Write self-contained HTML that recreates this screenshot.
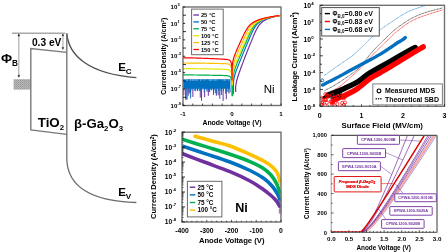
<!DOCTYPE html>
<html><head><meta charset="utf-8"><style>
html,body{margin:0;padding:0;background:#fff;overflow:hidden;}
svg{display:block;font-family:"Liberation Sans", Arial, sans-serif;}
</style></head><body>
<svg width="448" height="252" viewBox="0 0 448 252">
<rect width="448" height="252" fill="#fff"/>
<line x1="12.00" y1="33.20" x2="65.20" y2="33.20" stroke="#a8a8a8" stroke-width="1.5" />
<line x1="18.80" y1="34.00" x2="18.80" y2="77.00" stroke="#b4b4b4" stroke-width="1.3" />
<path d="M17.9,36.1 L18.8,34.0 L19.7,36.1 Z" stroke="#222" stroke-width="0.4" fill="#222" />
<path d="M17.9,75.3 L18.8,77.3 L19.7,75.3 Z" stroke="#222" stroke-width="0.4" fill="#222" />
<line x1="62.90" y1="34.00" x2="62.90" y2="49.30" stroke="#b4b4b4" stroke-width="1.2" />
<path d="M62.1,35.9 L62.9,34.0 L63.7,35.9 Z" stroke="#222" stroke-width="0.4" fill="#222" />
<path d="M62.1,47.4 L62.9,49.3 L63.7,47.4 Z" stroke="#222" stroke-width="0.4" fill="#222" />
<defs><pattern id="dots" width="2" height="2" patternUnits="userSpaceOnUse"><rect width="2" height="2" fill="#b8b8b8"/><rect width="1" height="1" fill="#989898"/><rect x="1" y="1" width="1" height="1" fill="#a4a4a4"/></pattern></defs>
<rect x="13.6" y="79.2" width="17.1" height="10.4" fill="url(#dots)"/>
<path d="M66.8,52.4 L30.8,48.6 L30.8,130 L66.8,134.4" stroke="#7a7a7a" stroke-width="1.4" fill="none" />
<path d="M66.8,33.4 C68.5,55 88,74 136.4,77.6" stroke="#505050" stroke-width="1.3" fill="none" />
<path d="M66.8,33.4 L66.8,160 C68,184 86,201 136.4,202.5" stroke="#6e6e6e" stroke-width="1.3" fill="none" />
<text x="1.00" y="63.00" font-size="13.5" text-anchor="start" font-weight="bold" fill="#000" >Φ</text>
<text x="12.00" y="66.00" font-size="8.2" text-anchor="start" font-weight="bold" fill="#000" >B</text>
<text x="31.90" y="45.80" font-size="10.2" text-anchor="start" font-weight="bold" fill="#000" >0.3 eV</text>
<text x="37.80" y="127.00" font-size="13.3" text-anchor="start" font-weight="bold" fill="#000" >TiO<tspan font-size="7.8" dy="3">2</tspan></text>
<text x="74.00" y="128.10" font-size="13.2" text-anchor="start" font-weight="bold" fill="#000" >β-Ga<tspan font-size="7.8" dy="2.6">2</tspan><tspan dy="-2.6">O</tspan><tspan font-size="7.8" dy="2.6">3</tspan></text>
<text x="118.30" y="71.00" font-size="11.5" text-anchor="start" font-weight="bold" fill="#000" >E</text>
<text x="125.80" y="74.00" font-size="8" text-anchor="start" font-weight="bold" fill="#000" >C</text>
<text x="118.30" y="195.80" font-size="11.5" text-anchor="start" font-weight="bold" fill="#000" >E</text>
<text x="125.80" y="198.80" font-size="8" text-anchor="start" font-weight="bold" fill="#000" >V</text>
<defs><clipPath id="cB"><rect x="183" y="7" width="98" height="98.5"/></clipPath></defs>
<g clip-path="url(#cB)">
<line x1="183.80" y1="88.00" x2="183.80" y2="94.98" stroke="#7030a0" stroke-width="1.0" />
<line x1="186.12" y1="88.00" x2="186.12" y2="100.17" stroke="#7030a0" stroke-width="1.0" />
<line x1="188.25" y1="88.00" x2="188.25" y2="95.59" stroke="#7030a0" stroke-width="1.0" />
<line x1="190.63" y1="88.00" x2="190.63" y2="92.03" stroke="#7030a0" stroke-width="1.0" />
<line x1="192.85" y1="88.00" x2="192.85" y2="96.93" stroke="#7030a0" stroke-width="1.0" />
<line x1="195.64" y1="88.00" x2="195.64" y2="91.04" stroke="#7030a0" stroke-width="1.0" />
<line x1="197.44" y1="88.00" x2="197.44" y2="91.00" stroke="#7030a0" stroke-width="1.0" />
<line x1="200.26" y1="88.00" x2="200.26" y2="97.63" stroke="#7030a0" stroke-width="1.0" />
<line x1="201.55" y1="88.00" x2="201.55" y2="100.80" stroke="#7030a0" stroke-width="1.0" />
<line x1="204.67" y1="88.00" x2="204.67" y2="97.19" stroke="#7030a0" stroke-width="1.0" />
<line x1="207.11" y1="88.00" x2="207.11" y2="91.73" stroke="#7030a0" stroke-width="1.0" />
<line x1="208.34" y1="88.00" x2="208.34" y2="95.81" stroke="#7030a0" stroke-width="1.0" />
<line x1="209.65" y1="88.00" x2="209.65" y2="92.09" stroke="#7030a0" stroke-width="1.0" />
<line x1="211.34" y1="88.00" x2="211.34" y2="90.33" stroke="#7030a0" stroke-width="1.0" />
<line x1="213.47" y1="88.00" x2="213.47" y2="94.85" stroke="#7030a0" stroke-width="1.0" />
<line x1="216.35" y1="88.00" x2="216.35" y2="95.71" stroke="#7030a0" stroke-width="1.0" />
<line x1="218.83" y1="88.00" x2="218.83" y2="95.50" stroke="#7030a0" stroke-width="1.0" />
<line x1="221.36" y1="88.00" x2="221.36" y2="95.03" stroke="#7030a0" stroke-width="1.0" />
<line x1="223.11" y1="88.00" x2="223.11" y2="100.97" stroke="#7030a0" stroke-width="1.0" />
<line x1="226.30" y1="88.00" x2="226.30" y2="99.24" stroke="#7030a0" stroke-width="1.0" />
<line x1="228.92" y1="88.00" x2="228.92" y2="93.47" stroke="#7030a0" stroke-width="1.0" />
<rect x="183.2" y="79.2" width="47.20" height="9.6" fill="#0070c0"/>
<line x1="183.60" y1="88.50" x2="183.60" y2="89.18" stroke="#0070c0" stroke-width="1.0" />
<line x1="185.65" y1="88.50" x2="185.65" y2="99.26" stroke="#0070c0" stroke-width="1.0" />
<line x1="187.13" y1="88.50" x2="187.13" y2="99.27" stroke="#0070c0" stroke-width="1.0" />
<line x1="188.03" y1="88.50" x2="188.03" y2="91.28" stroke="#0070c0" stroke-width="1.0" />
<line x1="189.64" y1="88.50" x2="189.64" y2="93.47" stroke="#0070c0" stroke-width="1.0" />
<line x1="190.64" y1="88.50" x2="190.64" y2="98.31" stroke="#0070c0" stroke-width="1.0" />
<line x1="191.95" y1="88.50" x2="191.95" y2="89.83" stroke="#0070c0" stroke-width="1.0" />
<line x1="194.30" y1="88.50" x2="194.30" y2="90.71" stroke="#0070c0" stroke-width="1.0" />
<line x1="195.56" y1="88.50" x2="195.56" y2="89.15" stroke="#0070c0" stroke-width="1.0" />
<line x1="197.66" y1="88.50" x2="197.66" y2="90.40" stroke="#0070c0" stroke-width="1.0" />
<line x1="199.23" y1="88.50" x2="199.23" y2="90.83" stroke="#0070c0" stroke-width="1.0" />
<line x1="200.33" y1="88.50" x2="200.33" y2="90.70" stroke="#0070c0" stroke-width="1.0" />
<line x1="201.86" y1="88.50" x2="201.86" y2="89.67" stroke="#0070c0" stroke-width="1.0" />
<line x1="204.22" y1="88.50" x2="204.22" y2="92.45" stroke="#0070c0" stroke-width="1.0" />
<line x1="206.44" y1="88.50" x2="206.44" y2="89.99" stroke="#0070c0" stroke-width="1.0" />
<line x1="208.62" y1="88.50" x2="208.62" y2="90.58" stroke="#0070c0" stroke-width="1.0" />
<line x1="211.01" y1="88.50" x2="211.01" y2="89.65" stroke="#0070c0" stroke-width="1.0" />
<line x1="213.07" y1="88.50" x2="213.07" y2="89.74" stroke="#0070c0" stroke-width="1.0" />
<line x1="214.08" y1="88.50" x2="214.08" y2="90.46" stroke="#0070c0" stroke-width="1.0" />
<line x1="215.34" y1="88.50" x2="215.34" y2="93.18" stroke="#0070c0" stroke-width="1.0" />
<line x1="216.92" y1="88.50" x2="216.92" y2="94.47" stroke="#0070c0" stroke-width="1.0" />
<line x1="218.68" y1="88.50" x2="218.68" y2="91.26" stroke="#0070c0" stroke-width="1.0" />
<line x1="219.81" y1="88.50" x2="219.81" y2="98.85" stroke="#0070c0" stroke-width="1.0" />
<line x1="221.09" y1="88.50" x2="221.09" y2="90.85" stroke="#0070c0" stroke-width="1.0" />
<line x1="223.40" y1="88.50" x2="223.40" y2="91.38" stroke="#0070c0" stroke-width="1.0" />
<line x1="225.62" y1="88.50" x2="225.62" y2="93.74" stroke="#0070c0" stroke-width="1.0" />
<line x1="226.68" y1="88.50" x2="226.68" y2="91.41" stroke="#0070c0" stroke-width="1.0" />
<line x1="227.94" y1="88.50" x2="227.94" y2="91.97" stroke="#0070c0" stroke-width="1.0" />
<line x1="230.07" y1="88.50" x2="230.07" y2="92.34" stroke="#0070c0" stroke-width="1.0" />
<line x1="216.42" y1="80.10" x2="217.32" y2="80.10" stroke="#e8f0fa" stroke-width="0.6" />
<line x1="187.09" y1="80.10" x2="187.99" y2="80.10" stroke="#e8f0fa" stroke-width="0.6" />
<line x1="194.28" y1="80.10" x2="195.18" y2="80.10" stroke="#e8f0fa" stroke-width="0.6" />
<line x1="209.17" y1="80.10" x2="210.07" y2="80.10" stroke="#e8f0fa" stroke-width="0.6" />
<line x1="222.36" y1="80.10" x2="223.26" y2="80.10" stroke="#e8f0fa" stroke-width="0.6" />
<line x1="211.64" y1="80.10" x2="212.54" y2="80.10" stroke="#e8f0fa" stroke-width="0.6" />
<line x1="196.61" y1="80.10" x2="197.51" y2="80.10" stroke="#e8f0fa" stroke-width="0.6" />
<line x1="225.28" y1="80.10" x2="226.18" y2="80.10" stroke="#e8f0fa" stroke-width="0.6" />
<line x1="193.18" y1="80.10" x2="194.08" y2="80.10" stroke="#e8f0fa" stroke-width="0.6" />
<line x1="184.75" y1="80.10" x2="185.65" y2="80.10" stroke="#e8f0fa" stroke-width="0.6" />
<line x1="196.11" y1="80.10" x2="197.01" y2="80.10" stroke="#e8f0fa" stroke-width="0.6" />
<line x1="204.06" y1="80.10" x2="204.96" y2="80.10" stroke="#e8f0fa" stroke-width="0.6" />
<line x1="186.72" y1="80.10" x2="187.62" y2="80.10" stroke="#e8f0fa" stroke-width="0.6" />
<line x1="191.93" y1="80.10" x2="192.83" y2="80.10" stroke="#e8f0fa" stroke-width="0.6" />
<line x1="200.60" y1="80.10" x2="201.50" y2="80.10" stroke="#e8f0fa" stroke-width="0.6" />
<line x1="209.75" y1="80.10" x2="210.65" y2="80.10" stroke="#e8f0fa" stroke-width="0.6" />
<line x1="189.92" y1="80.10" x2="190.82" y2="80.10" stroke="#e8f0fa" stroke-width="0.6" />
<line x1="200.30" y1="80.10" x2="201.20" y2="80.10" stroke="#e8f0fa" stroke-width="0.6" />
<line x1="224.09" y1="80.10" x2="224.99" y2="80.10" stroke="#e8f0fa" stroke-width="0.6" />
<line x1="228.12" y1="80.10" x2="229.02" y2="80.10" stroke="#e8f0fa" stroke-width="0.6" />
<line x1="213.56" y1="80.10" x2="214.46" y2="80.10" stroke="#e8f0fa" stroke-width="0.6" />
<line x1="215.10" y1="80.10" x2="216.00" y2="80.10" stroke="#e8f0fa" stroke-width="0.6" />
<line x1="210.30" y1="80.10" x2="211.20" y2="80.10" stroke="#e8f0fa" stroke-width="0.6" />
<line x1="190.32" y1="80.10" x2="191.22" y2="80.10" stroke="#e8f0fa" stroke-width="0.6" />
<line x1="185.58" y1="80.10" x2="186.48" y2="80.10" stroke="#e8f0fa" stroke-width="0.6" />
<line x1="184.81" y1="80.10" x2="185.71" y2="80.10" stroke="#e8f0fa" stroke-width="0.6" />
<path d="M235.79,91.96 L235.75,91.63 L235.72,91.30 L235.69,90.97 L235.66,90.64 L235.64,90.31 L235.63,89.99 L235.61,89.66 L235.60,89.33 L235.60,89.00 L235.59,88.67 L235.60,88.34 L235.60,88.02 L235.61,87.69 L235.63,87.36 L235.65,87.03 L235.67,86.70 L235.70,86.37 L235.73,86.05 L235.77,85.72 L235.80,85.39 L235.85,85.06 L235.89,84.73 L235.94,84.40 L236.00,84.08 L236.06,83.75 L236.12,83.42 L236.18,83.09 L236.25,82.76 L236.32,82.43 L236.39,82.11 L236.46,81.78 L236.54,81.45 L236.62,81.12 L236.70,80.79 L236.79,80.46 L236.87,80.14 L236.96,79.81 L237.05,79.48 L237.14,79.15 L237.24,78.82 L237.33,78.49 L237.43,78.17 L237.53,77.84 L237.63,77.51 L237.73,77.18 L237.83,76.85 L237.93,76.52 L238.03,76.20 L238.14,75.87 L238.24,75.54 L238.35,75.21 L238.46,74.88 L238.57,74.55 L238.68,74.23 L238.79,73.90 L238.90,73.57 L239.01,73.24 L239.12,72.91 L239.23,72.58 L239.35,72.26 L239.46,71.93 L239.58,71.60 L239.69,71.27 L239.81,70.94 L239.92,70.61 L240.04,70.29 L240.16,69.96 L240.27,69.63 L240.39,69.30 L240.51,68.97 L240.63,68.64 L240.75,68.32 L240.87,67.99 L240.99,67.66 L241.11,67.33 L241.23,67.00 L241.35,66.67 L241.47,66.35 L241.59,66.02 L241.71,65.69 L241.83,65.36 L241.96,65.03 L242.08,64.70 L242.20,64.38 L242.33,64.05 L242.45,63.72 L242.57,63.39 L242.70,63.06 L242.82,62.73 L242.95,62.41 L243.07,62.08 L243.20,61.75 L243.32,61.42 L243.45,61.09 L243.57,60.76 L243.70,60.44 L243.82,60.11 L243.95,59.78 L244.08,59.45 L244.20,59.12 L244.33,58.79 L244.46,58.47 L244.58,58.14 L244.71,57.81 L244.84,57.48 L244.97,57.15 L245.10,56.82 L245.22,56.50 L245.35,56.17 L245.48,55.84 L245.61,55.51 L245.74,55.18 L245.87,54.85 L246.00,54.53 L246.12,54.20 L246.25,53.87 L246.38,53.54 L246.51,53.21 L246.64,52.88 L246.77,52.56 L246.90,52.23 L247.03,51.90 L247.16,51.57 L247.29,51.24 L247.42,50.91 L247.55,50.59 L247.69,50.26 L247.82,49.93 L247.95,49.60 L248.08,49.27 L248.21,48.94 L248.34,48.62 L248.47,48.29 L248.60,47.96 L248.74,47.63 L248.87,47.30 L249.00,46.97 L249.13,46.65 L249.26,46.32 L249.40,45.99 L249.53,45.66 L249.66,45.33 L249.79,45.00 L249.93,44.68 L250.06,44.35 L250.19,44.02 L250.32,43.69 L250.46,43.36 L250.59,43.03 L250.72,42.71 L250.86,42.38 L250.99,42.05 L251.13,41.72 L251.26,41.39 L251.39,41.06 L251.53,40.74 L251.66,40.41 L251.80,40.08 L251.93,39.75 L252.07,39.42 L252.20,39.09 L252.34,38.77 L252.48,38.44 L252.61,38.11 L252.75,37.78 L252.89,37.45 L253.02,37.12 L253.16,36.80 L253.30,36.47 L253.44,36.14 L253.58,35.81 L253.72,35.48 L253.86,35.15 L254.00,34.83 L254.14,34.50 L254.29,34.17 L254.43,33.84 L254.57,33.51 L254.72,33.18 L254.87,32.86 L255.02,32.53 L255.17,32.20 L255.32,31.87 L255.47,31.54 L255.62,31.21 L255.78,30.89 L255.94,30.56 L256.10,30.23 L256.27,29.90 L256.43,29.57 L256.60,29.24 L256.78,28.92 L256.95,28.59 L257.13,28.26 L257.32,27.93 L257.51,27.60 L257.71,27.27 L257.91,26.95 L258.12,26.62 L258.33,26.29 L258.56,25.96 L258.79,25.63 L259.03,25.30 L259.28,24.98 L259.54,24.65 L259.82,24.32 L260.11,23.99 L260.41,23.66 L260.73,23.33 L261.07,23.01 L261.43,22.68 L261.81,22.35 L262.21,22.02 L262.64,21.69 L263.10,21.36 L263.59,21.04 L264.11,20.71 L264.67,20.38 L265.27,20.05 L265.92,19.72 L266.61,19.39 L267.36,19.07 L268.17,18.74 L269.04,18.41 L269.98,18.08 L271.01,17.75 L272.11,17.42 L273.32,17.10 L274.62,16.77 L276.04,16.44 L277.58,16.11 L279.26,15.78 L281.08,15.45" stroke="#7030a0" stroke-width="1.2" fill="none" stroke-linejoin="round"/>
<path d="M233.34,94.01 L233.34,93.68 L233.35,93.35 L233.35,93.02 L233.35,92.69 L233.36,92.37 L233.36,92.04 L233.36,91.71 L233.37,91.38 L233.37,91.05 L233.38,90.72 L233.38,90.40 L233.39,90.07 L233.40,89.74 L233.40,89.41 L233.41,89.08 L233.42,88.75 L233.43,88.43 L233.44,88.10 L233.45,87.77 L233.46,87.44 L233.45,87.11 L233.44,86.78 L233.43,86.46 L233.42,86.13 L233.42,85.80 L233.41,85.47 L233.41,85.14 L233.41,84.81 L233.41,84.49 L233.42,84.16 L233.43,83.83 L233.44,83.50 L233.45,83.17 L233.46,82.84 L233.48,82.52 L233.50,82.19 L233.53,81.86 L233.56,81.53 L233.59,81.20 L233.62,80.87 L233.66,80.55 L233.70,80.22 L233.75,79.89 L233.79,79.56 L233.85,79.23 L233.90,78.90 L233.96,78.58 L234.02,78.25 L234.09,77.92 L234.16,77.59 L234.23,77.26 L234.31,76.93 L234.38,76.61 L234.47,76.28 L234.55,75.95 L234.64,75.62 L234.73,75.29 L234.82,74.96 L234.92,74.64 L235.02,74.31 L235.12,73.98 L235.22,73.65 L235.32,73.32 L235.43,72.99 L235.54,72.67 L235.65,72.34 L235.76,72.01 L235.87,71.68 L235.99,71.35 L236.10,71.02 L236.22,70.70 L236.34,70.37 L236.46,70.04 L236.58,69.71 L236.70,69.38 L236.82,69.05 L236.95,68.73 L237.07,68.40 L237.20,68.07 L237.32,67.74 L237.45,67.41 L237.57,67.08 L237.70,66.76 L237.83,66.43 L237.96,66.10 L238.09,65.77 L238.21,65.44 L238.34,65.11 L238.47,64.79 L238.60,64.46 L238.73,64.13 L238.87,63.80 L239.00,63.47 L239.13,63.14 L239.26,62.82 L239.39,62.49 L239.52,62.16 L239.66,61.83 L239.79,61.50 L239.92,61.17 L240.05,60.85 L240.19,60.52 L240.32,60.19 L240.45,59.86 L240.59,59.53 L240.72,59.20 L240.86,58.88 L240.99,58.55 L241.12,58.22 L241.26,57.89 L241.39,57.56 L241.53,57.23 L241.66,56.91 L241.80,56.58 L241.93,56.25 L242.07,55.92 L242.20,55.59 L242.34,55.26 L242.47,54.94 L242.61,54.61 L242.74,54.28 L242.88,53.95 L243.01,53.62 L243.15,53.29 L243.28,52.97 L243.42,52.64 L243.56,52.31 L243.69,51.98 L243.83,51.65 L243.96,51.32 L244.10,51.00 L244.24,50.67 L244.37,50.34 L244.51,50.01 L244.64,49.68 L244.78,49.35 L244.92,49.03 L245.05,48.70 L245.19,48.37 L245.33,48.04 L245.46,47.71 L245.60,47.38 L245.74,47.06 L245.88,46.73 L246.01,46.40 L246.15,46.07 L246.29,45.74 L246.42,45.41 L246.56,45.09 L246.70,44.76 L246.84,44.43 L246.97,44.10 L247.11,43.77 L247.25,43.44 L247.39,43.12 L247.53,42.79 L247.66,42.46 L247.80,42.13 L247.94,41.80 L248.08,41.47 L248.22,41.15 L248.36,40.82 L248.50,40.49 L248.64,40.16 L248.78,39.83 L248.92,39.50 L249.06,39.18 L249.20,38.85 L249.34,38.52 L249.48,38.19 L249.62,37.86 L249.76,37.53 L249.90,37.21 L250.04,36.88 L250.19,36.55 L250.33,36.22 L250.47,35.89 L250.62,35.56 L250.76,35.24 L250.91,34.91 L251.06,34.58 L251.20,34.25 L251.35,33.92 L251.50,33.59 L251.65,33.27 L251.80,32.94 L251.96,32.61 L252.11,32.28 L252.27,31.95 L252.43,31.62 L252.59,31.30 L252.75,30.97 L252.91,30.64 L253.08,30.31 L253.25,29.98 L253.42,29.65 L253.60,29.33 L253.78,29.00 L253.96,28.67 L254.15,28.34 L254.34,28.01 L254.54,27.68 L254.74,27.36 L254.95,27.03 L255.17,26.70 L255.40,26.37 L255.63,26.04 L255.87,25.71 L256.12,25.39 L256.39,25.06 L256.66,24.73 L256.95,24.40 L257.26,24.07 L257.58,23.74 L257.91,23.42 L258.27,23.09 L258.64,22.76 L259.04,22.43 L259.47,22.10 L259.92,21.77 L260.41,21.45 L260.92,21.12 L261.48,20.79 L262.07,20.46 L262.70,20.13 L263.39,19.80 L264.13,19.48 L264.92,19.15 L265.78,18.82 L266.71,18.49 L267.71,18.16 L268.80,17.83 L269.98,17.51 L271.26,17.18 L272.65,16.85 L274.16,16.52 L275.80,16.19 L277.59,15.86 L279.54,15.54 L281.66,15.21" stroke="#0070c0" stroke-width="1.2" fill="none" stroke-linejoin="round"/>
<path d="M183.00,74.90 L184.00,74.90 L185.00,74.91 L186.00,74.91 L187.00,74.92 L188.00,74.93 L189.00,74.93 L190.00,74.94 L191.00,74.95 L192.00,74.96 L193.00,74.97 L194.00,74.98 L195.00,75.00 L196.00,75.01 L197.00,75.02 L198.00,75.03 L199.00,75.05 L200.00,75.06 L201.00,75.08 L202.00,75.09 L203.00,75.11 L204.00,75.12 L205.00,75.14 L206.00,75.16 L207.00,75.17 L208.00,75.19 L209.00,75.21 L210.00,75.23 L211.00,75.24 L212.00,75.26 L213.00,75.28 L214.00,75.30 L215.00,75.32 L216.00,75.34 L217.00,75.36 L218.00,75.38 L219.00,75.40 L220.00,75.42 L221.00,75.45 L222.00,75.47 L223.00,75.50 L224.00,75.53 L225.00,75.57 L226.00,75.63 L227.00,75.72 L228.00,75.88 L229.00,76.15 L229.25,76.26 L229.50,76.39 L229.75,76.54 L230.00,76.74 L230.25,76.98 L230.50,77.29 L230.75,77.70 L231.00,78.24 L231.25,79.00 L231.50,80.18 L231.75,82.37 L231.90,85.47 L231.93,86.46 L231.94,87.47 L231.96,88.48 L231.97,89.49 L231.98,90.51 L231.98,91.53 L231.99,92.55 L231.99,93.57 L231.99,94.60 L231.99,95.62 L232.00,95.65 L232.66,95.65 L232.66,95.32 L232.66,94.99 L232.66,94.66 L232.67,94.34 L232.67,94.01 L232.67,93.68 L232.67,93.35 L232.67,93.02 L232.67,92.69 L232.67,92.37 L232.67,92.04 L232.67,91.71 L232.67,91.38 L232.67,91.05 L232.67,90.72 L232.68,90.40 L232.68,90.07 L232.68,89.74 L232.68,89.41 L232.68,89.08 L232.69,88.75 L232.69,88.43 L232.69,88.10 L232.69,87.77 L232.70,87.44 L232.70,87.11 L232.71,86.78 L232.71,86.46 L232.71,86.13 L232.72,85.80 L232.73,85.47 L232.73,85.14 L232.74,84.81 L232.75,84.49 L232.75,84.16 L232.76,83.83 L232.77,83.50 L232.78,83.17 L232.79,82.84 L232.81,82.52 L232.81,82.19 L232.81,81.86 L232.81,81.53 L232.82,81.20 L232.82,80.87 L232.83,80.55 L232.84,80.22 L232.85,79.89 L232.87,79.56 L232.89,79.23 L232.90,78.90 L232.93,78.58 L232.95,78.25 L232.98,77.92 L233.01,77.59 L233.04,77.26 L233.07,76.93 L233.11,76.61 L233.15,76.28 L233.20,75.95 L233.24,75.62 L233.30,75.29 L233.35,74.96 L233.41,74.64 L233.47,74.31 L233.53,73.98 L233.60,73.65 L233.67,73.32 L233.75,72.99 L233.83,72.67 L233.91,72.34 L233.99,72.01 L234.08,71.68 L234.17,71.35 L234.26,71.02 L234.36,70.70 L234.46,70.37 L234.56,70.04 L234.67,69.71 L234.77,69.38 L234.88,69.05 L234.99,68.73 L235.10,68.40 L235.22,68.07 L235.34,67.74 L235.45,67.41 L235.57,67.08 L235.69,66.76 L235.82,66.43 L235.94,66.10 L236.07,65.77 L236.19,65.44 L236.32,65.11 L236.45,64.79 L236.57,64.46 L236.70,64.13 L236.83,63.80 L236.97,63.47 L237.10,63.14 L237.23,62.82 L237.36,62.49 L237.50,62.16 L237.63,61.83 L237.76,61.50 L237.90,61.17 L238.03,60.85 L238.17,60.52 L238.31,60.19 L238.44,59.86 L238.58,59.53 L238.71,59.20 L238.85,58.88 L238.99,58.55 L239.13,58.22 L239.26,57.89 L239.40,57.56 L239.54,57.23 L239.68,56.91 L239.82,56.58 L239.95,56.25 L240.09,55.92 L240.23,55.59 L240.37,55.26 L240.51,54.94 L240.65,54.61 L240.79,54.28 L240.93,53.95 L241.07,53.62 L241.21,53.29 L241.35,52.97 L241.48,52.64 L241.62,52.31 L241.76,51.98 L241.90,51.65 L242.04,51.32 L242.18,51.00 L242.32,50.67 L242.46,50.34 L242.60,50.01 L242.74,49.68 L242.88,49.35 L243.03,49.03 L243.17,48.70 L243.31,48.37 L243.45,48.04 L243.59,47.71 L243.73,47.38 L243.87,47.06 L244.01,46.73 L244.15,46.40 L244.29,46.07 L244.43,45.74 L244.57,45.41 L244.71,45.09 L244.86,44.76 L245.00,44.43 L245.14,44.10 L245.28,43.77 L245.42,43.44 L245.56,43.12 L245.70,42.79 L245.85,42.46 L245.99,42.13 L246.13,41.80 L246.27,41.47 L246.42,41.15 L246.56,40.82 L246.70,40.49 L246.84,40.16 L246.99,39.83 L247.13,39.50 L247.27,39.18 L247.42,38.85 L247.56,38.52 L247.71,38.19 L247.85,37.86 L248.00,37.53 L248.14,37.21 L248.29,36.88 L248.44,36.55 L248.58,36.22 L248.73,35.89 L248.88,35.56 L249.03,35.24 L249.18,34.91 L249.33,34.58 L249.48,34.25 L249.63,33.92 L249.79,33.59 L249.94,33.27 L250.10,32.94 L250.26,32.61 L250.41,32.28 L250.58,31.95 L250.74,31.62 L250.90,31.30 L251.07,30.97 L251.24,30.64 L251.41,30.31 L251.59,29.98 L251.77,29.65 L251.95,29.33 L252.14,29.00 L252.33,28.67 L252.52,28.34 L252.72,28.01 L252.93,27.68 L253.14,27.36 L253.36,27.03 L253.59,26.70 L253.83,26.37 L254.07,26.04 L254.33,25.71 L254.59,25.39 L254.87,25.06 L255.16,24.73 L255.47,24.40 L255.79,24.07 L256.13,23.74 L256.48,23.42 L256.86,23.09 L257.26,22.76 L257.69,22.43 L258.14,22.10 L258.62,21.77 L259.14,21.45 L259.69,21.12 L260.28,20.79 L260.92,20.46 L261.60,20.13 L262.34,19.80 L263.13,19.48 L263.99,19.15 L264.91,18.82 L265.91,18.49 L266.99,18.16 L268.17,17.83 L269.44,17.51 L270.82,17.18 L272.33,16.85 L273.96,16.52 L275.74,16.19 L277.67,15.86 L279.78,15.54" stroke="#00b050" stroke-width="1.2" fill="none" stroke-linejoin="round"/>
<path d="M183.00,68.60 L184.00,68.60 L185.00,68.61 L186.00,68.61 L187.00,68.62 L188.00,68.63 L189.00,68.64 L190.00,68.65 L191.00,68.66 L192.00,68.67 L193.00,68.68 L194.00,68.70 L195.00,68.71 L196.00,68.72 L197.00,68.74 L198.00,68.75 L199.00,68.77 L200.00,68.79 L201.00,68.80 L202.00,68.82 L203.00,68.84 L204.00,68.86 L205.00,68.87 L206.00,68.89 L207.00,68.91 L208.00,68.93 L209.00,68.95 L210.00,68.97 L211.00,68.99 L212.00,69.01 L213.00,69.04 L214.00,69.06 L215.00,69.08 L216.00,69.10 L217.00,69.13 L218.00,69.15 L219.00,69.17 L220.00,69.20 L221.00,69.22 L222.00,69.25 L223.00,69.28 L224.00,69.32 L225.00,69.36 L226.00,69.43 L227.00,69.52 L228.00,69.69 L229.00,69.97 L229.25,70.07 L229.50,70.21 L229.75,70.37 L230.00,70.56 L230.25,70.81 L230.50,71.12 L230.75,71.53 L231.00,72.07 L231.25,72.84 L231.50,74.02 L231.75,76.22 L231.90,79.32 L231.93,80.32 L231.94,81.32 L231.96,82.33 L231.97,83.34 L231.98,84.36 L231.98,84.98 L232.36,84.98 L232.36,84.65 L232.36,84.32 L232.37,83.99 L232.37,83.67 L232.37,83.34 L232.38,83.01 L232.38,82.68 L232.39,82.35 L232.39,82.02 L232.40,81.70 L232.40,81.37 L232.41,81.04 L232.42,80.71 L232.43,80.38 L232.44,80.05 L232.45,79.73 L232.46,79.40 L232.47,79.07 L232.48,78.74 L232.49,78.41 L232.50,78.08 L232.51,77.76 L232.52,77.43 L232.53,77.10 L232.55,76.77 L232.56,76.44 L232.58,76.11 L232.60,75.79 L232.63,75.46 L232.65,75.13 L232.68,74.80 L232.71,74.47 L232.74,74.14 L232.78,73.82 L232.82,73.49 L232.86,73.16 L232.90,72.83 L232.95,72.50 L233.00,72.17 L233.05,71.85 L233.11,71.52 L233.17,71.19 L233.23,70.86 L233.30,70.53 L233.37,70.20 L233.45,69.88 L233.52,69.55 L233.60,69.22 L233.69,68.89 L233.78,68.56 L233.87,68.23 L233.96,67.91 L234.06,67.58 L234.15,67.25 L234.26,66.92 L234.36,66.59 L234.47,66.26 L234.58,65.94 L234.69,65.61 L234.80,65.28 L234.92,64.95 L235.04,64.62 L235.16,64.29 L235.28,63.97 L235.40,63.64 L235.52,63.31 L235.65,62.98 L235.78,62.65 L235.91,62.32 L236.04,62.00 L236.17,61.67 L236.30,61.34 L236.43,61.01 L236.56,60.68 L236.70,60.35 L236.83,60.03 L236.97,59.70 L237.10,59.37 L237.24,59.04 L237.38,58.71 L237.51,58.38 L237.65,58.06 L237.79,57.73 L237.93,57.40 L238.07,57.07 L238.21,56.74 L238.35,56.41 L238.49,56.09 L238.63,55.76 L238.77,55.43 L238.91,55.10 L239.05,54.77 L239.19,54.44 L239.33,54.12 L239.47,53.79 L239.61,53.46 L239.76,53.13 L239.90,52.80 L240.04,52.47 L240.18,52.15 L240.32,51.82 L240.47,51.49 L240.61,51.16 L240.75,50.83 L240.89,50.50 L241.04,50.18 L241.18,49.85 L241.32,49.52 L241.46,49.19 L241.61,48.86 L241.75,48.53 L241.89,48.21 L242.04,47.88 L242.18,47.55 L242.32,47.22 L242.47,46.89 L242.61,46.56 L242.75,46.24 L242.90,45.91 L243.04,45.58 L243.18,45.25 L243.33,44.92 L243.47,44.59 L243.61,44.27 L243.76,43.94 L243.90,43.61 L244.05,43.28 L244.19,42.95 L244.34,42.62 L244.48,42.30 L244.62,41.97 L244.77,41.64 L244.91,41.31 L245.06,40.98 L245.20,40.65 L245.35,40.33 L245.50,40.00 L245.64,39.67 L245.79,39.34 L245.93,39.01 L246.08,38.68 L246.23,38.36 L246.38,38.03 L246.52,37.70 L246.67,37.37 L246.82,37.04 L246.97,36.71 L247.12,36.39 L247.27,36.06 L247.42,35.73 L247.57,35.40 L247.72,35.07 L247.88,34.74 L248.03,34.42 L248.19,34.09 L248.34,33.76 L248.50,33.43 L248.66,33.10 L248.82,32.77 L248.98,32.45 L249.15,32.12 L249.31,31.79 L249.48,31.46 L249.65,31.13 L249.83,30.80 L250.00,30.48 L250.18,30.15 L250.36,29.82 L250.55,29.49 L250.74,29.16 L250.93,28.83 L251.13,28.51 L251.34,28.18 L251.55,27.85 L251.77,27.52 L251.99,27.19 L252.22,26.86 L252.46,26.54 L252.71,26.21 L252.98,25.88 L253.25,25.55 L253.53,25.22 L253.83,24.89 L254.14,24.57 L254.47,24.24 L254.82,23.91 L255.18,23.58 L255.57,23.25 L255.98,22.92 L256.42,22.60 L256.88,22.27 L257.38,21.94 L257.91,21.61 L258.48,21.28 L259.09,20.95 L259.74,20.63 L260.44,20.30 L261.20,19.97 L262.01,19.64 L262.89,19.31 L263.85,18.98 L264.87,18.66 L265.99,18.33 L267.20,18.00 L268.51,17.67 L269.93,17.34 L271.48,17.01 L273.16,16.69 L274.99,16.36 L276.98,16.03 L279.16,15.70 L281.52,15.37" stroke="#e6e600" stroke-width="1.2" fill="none" stroke-linejoin="round"/>
<path d="M183.00,63.00 L184.00,63.00 L185.00,63.01 L186.00,63.01 L187.00,63.02 L188.00,63.03 L189.00,63.03 L190.00,63.04 L191.00,63.05 L192.00,63.06 L193.00,63.07 L194.00,63.08 L195.00,63.10 L196.00,63.11 L197.00,63.12 L198.00,63.13 L199.00,63.15 L200.00,63.16 L201.00,63.18 L202.00,63.19 L203.00,63.21 L204.00,63.22 L205.00,63.24 L206.00,63.26 L207.00,63.27 L208.00,63.29 L209.00,63.31 L210.00,63.33 L211.00,63.34 L212.00,63.36 L213.00,63.38 L214.00,63.40 L215.00,63.42 L216.00,63.44 L217.00,63.46 L218.00,63.48 L219.00,63.50 L220.00,63.52 L221.00,63.55 L222.00,63.57 L223.00,63.60 L224.00,63.63 L225.00,63.67 L226.00,63.74 L227.00,63.83 L228.00,64.00 L229.00,64.28 L229.25,64.39 L229.50,64.53 L229.75,64.69 L230.00,64.89 L230.25,65.14 L230.50,65.46 L230.75,65.86 L231.00,66.41 L231.25,67.18 L231.50,68.37 L231.75,70.57 L231.90,73.67 L231.93,74.67 L231.94,75.67 L231.96,76.68 L231.97,77.70 L231.98,78.71 L231.98,79.73 L231.99,80.75 L231.99,81.78 L231.99,82.02 L232.18,82.02 L232.18,81.70 L232.18,81.37 L232.18,81.04 L232.19,80.71 L232.19,80.38 L232.19,80.05 L232.19,79.73 L232.19,79.40 L232.20,79.07 L232.20,78.74 L232.20,78.41 L232.21,78.08 L232.21,77.76 L232.22,77.43 L232.22,77.10 L232.23,76.77 L232.23,76.44 L232.24,76.11 L232.25,75.79 L232.25,75.46 L232.26,75.13 L232.27,74.80 L232.28,74.47 L232.29,74.14 L232.30,73.82 L232.32,73.49 L232.33,73.16 L232.34,72.83 L232.35,72.50 L232.37,72.17 L232.38,71.85 L232.40,71.52 L232.42,71.19 L232.44,70.86 L232.47,70.53 L232.49,70.20 L232.52,69.88 L232.55,69.55 L232.58,69.22 L232.62,68.89 L232.65,68.56 L232.69,68.23 L232.74,67.91 L232.79,67.58 L232.83,67.25 L232.89,66.92 L232.94,66.59 L233.00,66.26 L233.07,65.94 L233.13,65.61 L233.20,65.28 L233.27,64.95 L233.35,64.62 L233.43,64.29 L233.51,63.97 L233.60,63.64 L233.69,63.31 L233.78,62.98 L233.88,62.65 L233.98,62.32 L234.08,62.00 L234.18,61.67 L234.29,61.34 L234.40,61.01 L234.51,60.68 L234.62,60.35 L234.74,60.03 L234.86,59.70 L234.98,59.37 L235.10,59.04 L235.23,58.71 L235.35,58.38 L235.48,58.06 L235.61,57.73 L235.74,57.40 L235.87,57.07 L236.00,56.74 L236.13,56.41 L236.27,56.09 L236.40,55.76 L236.54,55.43 L236.68,55.10 L236.81,54.77 L236.95,54.44 L237.09,54.12 L237.23,53.79 L237.37,53.46 L237.51,53.13 L237.65,52.80 L237.79,52.47 L237.94,52.15 L238.08,51.82 L238.22,51.49 L238.36,51.16 L238.51,50.83 L238.65,50.50 L238.79,50.18 L238.94,49.85 L239.08,49.52 L239.22,49.19 L239.37,48.86 L239.51,48.53 L239.66,48.21 L239.80,47.88 L239.95,47.55 L240.09,47.22 L240.24,46.89 L240.38,46.56 L240.53,46.24 L240.67,45.91 L240.82,45.58 L240.96,45.25 L241.11,44.92 L241.26,44.59 L241.40,44.27 L241.55,43.94 L241.69,43.61 L241.84,43.28 L241.99,42.95 L242.13,42.62 L242.28,42.30 L242.43,41.97 L242.57,41.64 L242.72,41.31 L242.87,40.98 L243.02,40.65 L243.16,40.33 L243.31,40.00 L243.46,39.67 L243.61,39.34 L243.76,39.01 L243.91,38.68 L244.06,38.36 L244.21,38.03 L244.36,37.70 L244.51,37.37 L244.66,37.04 L244.81,36.71 L244.96,36.39 L245.12,36.06 L245.27,35.73 L245.43,35.40 L245.58,35.07 L245.74,34.74 L245.89,34.42 L246.05,34.09 L246.21,33.76 L246.37,33.43 L246.54,33.10 L246.70,32.77 L246.87,32.45 L247.03,32.12 L247.20,31.79 L247.38,31.46 L247.55,31.13 L247.73,30.80 L247.91,30.48 L248.09,30.15 L248.28,29.82 L248.47,29.49 L248.67,29.16 L248.87,28.83 L249.07,28.51 L249.29,28.18 L249.50,27.85 L249.73,27.52 L249.96,27.19 L250.20,26.86 L250.45,26.54 L250.71,26.21 L250.99,25.88 L251.27,25.55 L251.57,25.22 L251.88,24.89 L252.20,24.57 L252.55,24.24 L252.91,23.91 L253.30,23.58 L253.71,23.25 L254.14,22.92 L254.60,22.60 L255.09,22.27 L255.62,21.94 L256.18,21.61 L256.78,21.28 L257.42,20.95 L258.12,20.63 L258.86,20.30 L259.67,19.97 L260.53,19.64 L261.47,19.31 L262.48,18.98 L263.58,18.66 L264.77,18.33 L266.06,18.00 L267.46,17.67 L268.98,17.34 L270.63,17.01 L272.43,16.69 L274.39,16.36 L276.52,16.03 L278.84,15.70 L281.38,15.37" stroke="#ffc000" stroke-width="1.2" fill="none" stroke-linejoin="round"/>
<path d="M183.00,57.80 L184.00,57.81 L185.00,57.81 L186.00,57.83 L187.00,57.84 L188.00,57.86 L189.00,57.88 L190.00,57.90 L191.00,57.92 L192.00,57.94 L193.00,57.97 L194.00,57.99 L195.00,58.02 L196.00,58.05 L197.00,58.08 L198.00,58.11 L199.00,58.14 L200.00,58.17 L201.00,58.20 L202.00,58.24 L203.00,58.27 L204.00,58.31 L205.00,58.35 L206.00,58.38 L207.00,58.42 L208.00,58.46 L209.00,58.50 L210.00,58.54 L211.00,58.59 L212.00,58.63 L213.00,58.67 L214.00,58.71 L215.00,58.76 L216.00,58.80 L217.00,58.85 L218.00,58.90 L219.00,58.95 L220.00,58.99 L221.00,59.05 L222.00,59.10 L223.00,59.15 L224.00,59.22 L225.00,59.29 L226.00,59.38 L227.00,59.51 L228.00,59.71 L229.00,60.00 L229.25,60.11 L229.50,60.25 L229.75,60.41 L230.00,60.62 L230.25,60.87 L230.50,61.19 L230.75,61.60 L231.00,62.15 L231.25,62.93 L231.50,64.11 L231.75,66.32 L231.90,69.42 L231.93,70.42 L231.94,71.42 L231.96,72.44 L231.97,73.45 L231.98,74.47 L231.98,75.49 L231.99,76.51 L231.99,77.53 L231.99,78.55 L231.99,79.58 L232.00,79.97 L232.01,79.97 L232.01,79.64 L232.01,79.32 L232.01,78.99 L232.01,78.66 L232.01,78.33 L232.01,78.00 L232.01,77.67 L232.01,77.35 L232.01,77.02 L232.02,76.69 L232.02,76.36 L232.02,76.03 L232.02,75.70 L232.02,75.38 L232.03,75.05 L232.03,74.72 L232.03,74.39 L232.03,74.06 L232.04,73.73 L232.04,73.41 L232.04,73.08 L232.05,72.75 L232.05,72.42 L232.06,72.09 L232.06,71.76 L232.07,71.44 L232.08,71.11 L232.08,70.78 L232.09,70.45 L232.10,70.12 L232.11,69.79 L232.12,69.47 L232.13,69.14 L232.14,68.81 L232.16,68.48 L232.17,68.15 L232.19,67.82 L232.20,67.50 L232.22,67.17 L232.24,66.84 L232.26,66.51 L232.29,66.18 L232.31,65.85 L232.34,65.53 L232.37,65.20 L232.40,64.87 L232.43,64.54 L232.47,64.21 L232.51,63.88 L232.55,63.56 L232.60,63.23 L232.64,62.90 L232.69,62.57 L232.75,62.24 L232.80,61.91 L232.86,61.59 L232.93,61.26 L232.99,60.93 L233.06,60.60 L233.14,60.27 L233.21,59.94 L233.29,59.62 L233.38,59.29 L233.46,58.96 L233.55,58.63 L233.65,58.30 L233.74,57.97 L233.84,57.65 L233.95,57.32 L234.05,56.99 L234.16,56.66 L234.27,56.33 L234.38,56.00 L234.50,55.68 L234.62,55.35 L234.74,55.02 L234.86,54.69 L234.99,54.36 L235.11,54.03 L235.24,53.71 L235.37,53.38 L235.50,53.05 L235.63,52.72 L235.77,52.39 L235.90,52.06 L236.04,51.74 L236.17,51.41 L236.31,51.08 L236.45,50.75 L236.59,50.42 L236.73,50.09 L236.87,49.77 L237.01,49.44 L237.16,49.11 L237.30,48.78 L237.44,48.45 L237.59,48.12 L237.73,47.80 L237.87,47.47 L238.02,47.14 L238.16,46.81 L238.31,46.48 L238.46,46.15 L238.60,45.83 L238.75,45.50 L238.90,45.17 L239.04,44.84 L239.19,44.51 L239.34,44.18 L239.49,43.86 L239.63,43.53 L239.78,43.20 L239.93,42.87 L240.08,42.54 L240.23,42.21 L240.38,41.89 L240.53,41.56 L240.68,41.23 L240.83,40.90 L240.98,40.57 L241.13,40.24 L241.28,39.92 L241.43,39.59 L241.58,39.26 L241.73,38.93 L241.88,38.60 L242.04,38.27 L242.19,37.95 L242.34,37.62 L242.50,37.29 L242.65,36.96 L242.80,36.63 L242.96,36.30 L243.12,35.98 L243.27,35.65 L243.43,35.32 L243.59,34.99 L243.75,34.66 L243.91,34.33 L244.07,34.01 L244.24,33.68 L244.40,33.35 L244.57,33.02 L244.74,32.69 L244.91,32.36 L245.08,32.04 L245.25,31.71 L245.43,31.38 L245.61,31.05 L245.79,30.72 L245.98,30.39 L246.17,30.07 L246.36,29.74 L246.56,29.41 L246.76,29.08 L246.97,28.75 L247.19,28.42 L247.41,28.10 L247.63,27.77 L247.87,27.44 L248.11,27.11 L248.36,26.78 L248.63,26.45 L248.90,26.13 L249.19,25.80 L249.48,25.47 L249.80,25.14 L250.13,24.81 L250.47,24.48 L250.84,24.16 L251.23,23.83 L251.64,23.50 L252.07,23.17 L252.53,22.84 L253.03,22.51 L253.55,22.19 L254.12,21.86 L254.72,21.53 L255.36,21.20 L256.06,20.87 L256.81,20.54 L257.61,20.22 L258.48,19.89 L259.42,19.56 L260.43,19.23 L261.53,18.90 L262.71,18.57 L264.00,18.25 L265.40,17.92 L266.92,17.59 L268.57,17.26 L270.37,16.93 L272.33,16.60 L274.46,16.28 L276.78,15.95 L279.31,15.62" stroke="#ff0000" stroke-width="1.2" fill="none" stroke-linejoin="round"/>
</g>
<rect x="183" y="7" width="98" height="98.5" fill="none" stroke="#707070" stroke-width="1.4"/>
<line x1="183.00" y1="105.50" x2="185.20" y2="105.50" stroke="#000" stroke-width="0.8" />
<line x1="183.00" y1="97.29" x2="186.00" y2="97.29" stroke="#000" stroke-width="0.8" />
<line x1="183.00" y1="89.08" x2="185.20" y2="89.08" stroke="#000" stroke-width="0.8" />
<line x1="183.00" y1="80.87" x2="186.00" y2="80.87" stroke="#000" stroke-width="0.8" />
<line x1="183.00" y1="72.67" x2="185.20" y2="72.67" stroke="#000" stroke-width="0.8" />
<line x1="183.00" y1="64.46" x2="186.00" y2="64.46" stroke="#000" stroke-width="0.8" />
<line x1="183.00" y1="56.25" x2="185.20" y2="56.25" stroke="#000" stroke-width="0.8" />
<line x1="183.00" y1="48.04" x2="186.00" y2="48.04" stroke="#000" stroke-width="0.8" />
<line x1="183.00" y1="39.83" x2="185.20" y2="39.83" stroke="#000" stroke-width="0.8" />
<line x1="183.00" y1="31.62" x2="186.00" y2="31.62" stroke="#000" stroke-width="0.8" />
<line x1="183.00" y1="23.42" x2="185.20" y2="23.42" stroke="#000" stroke-width="0.8" />
<line x1="183.00" y1="15.21" x2="186.00" y2="15.21" stroke="#000" stroke-width="0.8" />
<line x1="183.00" y1="7.00" x2="185.20" y2="7.00" stroke="#000" stroke-width="0.8" />
<line x1="183.00" y1="105.50" x2="183.00" y2="103.50" stroke="#000" stroke-width="0.7" />
<line x1="192.80" y1="105.50" x2="192.80" y2="103.50" stroke="#000" stroke-width="0.7" />
<line x1="202.60" y1="105.50" x2="202.60" y2="103.50" stroke="#000" stroke-width="0.7" />
<line x1="212.40" y1="105.50" x2="212.40" y2="103.50" stroke="#000" stroke-width="0.7" />
<line x1="222.20" y1="105.50" x2="222.20" y2="103.50" stroke="#000" stroke-width="0.7" />
<line x1="232.00" y1="105.50" x2="232.00" y2="103.50" stroke="#000" stroke-width="0.7" />
<line x1="241.80" y1="105.50" x2="241.80" y2="103.50" stroke="#000" stroke-width="0.7" />
<line x1="251.60" y1="105.50" x2="251.60" y2="103.50" stroke="#000" stroke-width="0.7" />
<line x1="261.40" y1="105.50" x2="261.40" y2="103.50" stroke="#000" stroke-width="0.7" />
<line x1="271.20" y1="105.50" x2="271.20" y2="103.50" stroke="#000" stroke-width="0.7" />
<line x1="281.00" y1="105.50" x2="281.00" y2="103.50" stroke="#000" stroke-width="0.7" />
<text x="177.40" y="9.20" font-size="6.1" text-anchor="end" font-weight="bold" fill="#000" >10</text>
<text x="177.50" y="6.20" font-size="4.0" text-anchor="start" font-weight="bold" fill="#000" >3</text>
<text x="177.40" y="25.62" font-size="6.1" text-anchor="end" font-weight="bold" fill="#000" >10</text>
<text x="177.50" y="22.62" font-size="4.0" text-anchor="start" font-weight="bold" fill="#000" >1</text>
<text x="177.40" y="42.03" font-size="6.1" text-anchor="end" font-weight="bold" fill="#000" >10</text>
<text x="177.50" y="39.03" font-size="4.0" text-anchor="start" font-weight="bold" fill="#000" >-1</text>
<text x="177.40" y="58.45" font-size="6.1" text-anchor="end" font-weight="bold" fill="#000" >10</text>
<text x="177.50" y="55.45" font-size="4.0" text-anchor="start" font-weight="bold" fill="#000" >-3</text>
<text x="177.40" y="74.87" font-size="6.1" text-anchor="end" font-weight="bold" fill="#000" >10</text>
<text x="177.50" y="71.87" font-size="4.0" text-anchor="start" font-weight="bold" fill="#000" >-5</text>
<text x="177.40" y="91.28" font-size="6.1" text-anchor="end" font-weight="bold" fill="#000" >10</text>
<text x="177.50" y="88.28" font-size="4.0" text-anchor="start" font-weight="bold" fill="#000" >-7</text>
<text x="177.40" y="107.70" font-size="6.1" text-anchor="end" font-weight="bold" fill="#000" >10</text>
<text x="177.50" y="104.70" font-size="4.0" text-anchor="start" font-weight="bold" fill="#000" >-9</text>
<text x="183.00" y="115.80" font-size="6.2" text-anchor="middle" font-weight="bold" fill="#000" >-1</text>
<text x="232.00" y="115.80" font-size="6.2" text-anchor="middle" font-weight="bold" fill="#000" >0</text>
<text x="281.00" y="115.80" font-size="6.2" text-anchor="middle" font-weight="bold" fill="#000" >1</text>
<text x="232.00" y="125.00" font-size="6.95" text-anchor="middle" font-weight="bold" fill="#000" >Anode Voltage (V)</text>
<text x="0.00" y="0.00" font-size="6.85" text-anchor="middle" font-weight="bold" fill="#000" transform="translate(166.4,56.3) rotate(-90)">Current Density (A/cm<tspan font-size="4.3" dy="-2.4">2</tspan><tspan dy="2.4">)</tspan></text>
<text x="263.70" y="92.50" font-size="11.5" text-anchor="start" font-weight="normal" fill="#000" >Ni</text>
<rect x="191.6" y="9.1" width="31.6" height="45.6" fill="#fff" stroke="#6a6a6a" stroke-width="1"/>
<line x1="193.40" y1="15.00" x2="199.00" y2="15.00" stroke="#7030a0" stroke-width="1.3" />
<text x="200.90" y="17.10" font-size="5.75" text-anchor="start" font-weight="bold" fill="#000" >25 °C</text>
<line x1="193.40" y1="21.90" x2="199.00" y2="21.90" stroke="#0070c0" stroke-width="1.3" />
<text x="200.90" y="24.00" font-size="5.75" text-anchor="start" font-weight="bold" fill="#000" >50 °C</text>
<line x1="193.40" y1="28.80" x2="199.00" y2="28.80" stroke="#00b050" stroke-width="1.3" />
<text x="200.90" y="30.90" font-size="5.75" text-anchor="start" font-weight="bold" fill="#000" >75 °C</text>
<line x1="193.40" y1="35.70" x2="199.00" y2="35.70" stroke="#e6e600" stroke-width="1.3" />
<text x="200.90" y="37.80" font-size="5.75" text-anchor="start" font-weight="bold" fill="#000" >100 °C</text>
<line x1="193.40" y1="42.60" x2="199.00" y2="42.60" stroke="#ffc000" stroke-width="1.3" />
<text x="200.90" y="44.70" font-size="5.75" text-anchor="start" font-weight="bold" fill="#000" >125 °C</text>
<line x1="193.40" y1="49.50" x2="199.00" y2="49.50" stroke="#ff0000" stroke-width="1.3" />
<text x="200.90" y="51.60" font-size="5.75" text-anchor="start" font-weight="bold" fill="#000" >150 °C</text>
<defs><clipPath id="cC"><rect x="182" y="132.2" width="102" height="89.80000000000001"/></clipPath></defs>
<g clip-path="url(#cC)">
<path d="M182.00,153.50 C185.83,154.97 197.00,159.27 205.00,162.30 C213.00,165.33 222.50,168.58 230.00,171.70 C237.50,174.82 244.67,178.20 250.00,181.00 C255.33,183.80 258.50,186.08 262.00,188.50 C265.50,190.92 268.58,193.42 271.00,195.50 C273.42,197.58 275.07,199.25 276.50,201.00 C277.93,202.75 279.08,205.17 279.60,206.00" stroke="#7030a0" stroke-width="3.6" fill="none" stroke-linecap="round"/>
<path d="M182.00,145.90 C185.83,147.18 197.00,150.92 205.00,153.60 C213.00,156.28 222.50,159.18 230.00,162.00 C237.50,164.82 244.33,167.75 250.00,170.50 C255.67,173.25 260.33,175.92 264.00,178.50 C267.67,181.08 269.78,183.50 272.00,186.00 C274.22,188.50 276.03,191.33 277.30,193.50 C278.57,195.67 279.22,198.08 279.60,199.00" stroke="#0070c0" stroke-width="3.6" fill="none" stroke-linecap="round"/>
<path d="M182.00,139.20 C185.83,140.40 197.00,143.88 205.00,146.40 C213.00,148.92 222.50,151.77 230.00,154.30 C237.50,156.83 244.67,159.38 250.00,161.60 C255.33,163.82 258.50,165.37 262.00,167.60 C265.50,169.83 268.53,172.27 271.00,175.00 C273.47,177.73 275.37,181.17 276.80,184.00 C278.23,186.83 279.13,190.67 279.60,192.00" stroke="#00b050" stroke-width="3.6" fill="none" stroke-linecap="round"/>
<path d="M195.00,136.30 C197.83,137.08 206.17,139.38 212.00,141.00 C217.83,142.62 223.67,143.77 230.00,146.00 C236.33,148.23 244.17,151.77 250.00,154.40 C255.83,157.03 261.17,159.62 265.00,161.80 C268.83,163.98 270.87,165.47 273.00,167.50 C275.13,169.53 276.68,171.75 277.80,174.00 C278.92,176.25 279.38,179.83 279.70,181.00" stroke="#ffc000" stroke-width="3.6" fill="none" stroke-linecap="round"/>
<circle cx="280.2" cy="207.30" r="1.1" fill="none" stroke="#7030a0" stroke-width="0.75"/>
<circle cx="280.2" cy="209.80" r="1.1" fill="none" stroke="#7030a0" stroke-width="0.75"/>
<circle cx="280.2" cy="212.30" r="1.1" fill="none" stroke="#7030a0" stroke-width="0.75"/>
<circle cx="280.2" cy="200.80" r="1.1" fill="none" stroke="#0070c0" stroke-width="0.75"/>
<circle cx="280.2" cy="203.30" r="1.1" fill="none" stroke="#0070c0" stroke-width="0.75"/>
<circle cx="280.2" cy="194.00" r="1.1" fill="none" stroke="#00b050" stroke-width="0.75"/>
<circle cx="280.2" cy="196.50" r="1.1" fill="none" stroke="#00b050" stroke-width="0.75"/>
<circle cx="280.2" cy="183.00" r="1.1" fill="none" stroke="#ffc000" stroke-width="0.75"/>
<circle cx="280.2" cy="185.50" r="1.1" fill="none" stroke="#ffc000" stroke-width="0.75"/>
</g>
<rect x="182" y="132.2" width="99" height="89.80000000000001" fill="none" stroke="#707070" stroke-width="1.4"/>
<line x1="182.00" y1="221.90" x2="185.00" y2="221.90" stroke="#000" stroke-width="0.8" />
<line x1="182.00" y1="217.40" x2="183.60" y2="217.40" stroke="#000" stroke-width="0.5" />
<line x1="182.00" y1="214.77" x2="183.60" y2="214.77" stroke="#000" stroke-width="0.5" />
<line x1="182.00" y1="212.90" x2="183.60" y2="212.90" stroke="#000" stroke-width="0.5" />
<line x1="182.00" y1="211.45" x2="183.60" y2="211.45" stroke="#000" stroke-width="0.5" />
<line x1="182.00" y1="210.27" x2="183.60" y2="210.27" stroke="#000" stroke-width="0.5" />
<line x1="182.00" y1="209.27" x2="183.60" y2="209.27" stroke="#000" stroke-width="0.5" />
<line x1="182.00" y1="208.40" x2="183.60" y2="208.40" stroke="#000" stroke-width="0.5" />
<line x1="182.00" y1="207.63" x2="183.60" y2="207.63" stroke="#000" stroke-width="0.5" />
<line x1="182.00" y1="206.95" x2="185.00" y2="206.95" stroke="#000" stroke-width="0.8" />
<line x1="182.00" y1="202.45" x2="183.60" y2="202.45" stroke="#000" stroke-width="0.5" />
<line x1="182.00" y1="199.82" x2="183.60" y2="199.82" stroke="#000" stroke-width="0.5" />
<line x1="182.00" y1="197.95" x2="183.60" y2="197.95" stroke="#000" stroke-width="0.5" />
<line x1="182.00" y1="196.50" x2="183.60" y2="196.50" stroke="#000" stroke-width="0.5" />
<line x1="182.00" y1="195.32" x2="183.60" y2="195.32" stroke="#000" stroke-width="0.5" />
<line x1="182.00" y1="194.32" x2="183.60" y2="194.32" stroke="#000" stroke-width="0.5" />
<line x1="182.00" y1="193.45" x2="183.60" y2="193.45" stroke="#000" stroke-width="0.5" />
<line x1="182.00" y1="192.68" x2="183.60" y2="192.68" stroke="#000" stroke-width="0.5" />
<line x1="182.00" y1="192.00" x2="185.00" y2="192.00" stroke="#000" stroke-width="0.8" />
<line x1="182.00" y1="187.50" x2="183.60" y2="187.50" stroke="#000" stroke-width="0.5" />
<line x1="182.00" y1="184.87" x2="183.60" y2="184.87" stroke="#000" stroke-width="0.5" />
<line x1="182.00" y1="183.00" x2="183.60" y2="183.00" stroke="#000" stroke-width="0.5" />
<line x1="182.00" y1="181.55" x2="183.60" y2="181.55" stroke="#000" stroke-width="0.5" />
<line x1="182.00" y1="180.37" x2="183.60" y2="180.37" stroke="#000" stroke-width="0.5" />
<line x1="182.00" y1="179.37" x2="183.60" y2="179.37" stroke="#000" stroke-width="0.5" />
<line x1="182.00" y1="178.50" x2="183.60" y2="178.50" stroke="#000" stroke-width="0.5" />
<line x1="182.00" y1="177.73" x2="183.60" y2="177.73" stroke="#000" stroke-width="0.5" />
<line x1="182.00" y1="177.05" x2="185.00" y2="177.05" stroke="#000" stroke-width="0.8" />
<line x1="182.00" y1="172.55" x2="183.60" y2="172.55" stroke="#000" stroke-width="0.5" />
<line x1="182.00" y1="169.92" x2="183.60" y2="169.92" stroke="#000" stroke-width="0.5" />
<line x1="182.00" y1="168.05" x2="183.60" y2="168.05" stroke="#000" stroke-width="0.5" />
<line x1="182.00" y1="166.60" x2="183.60" y2="166.60" stroke="#000" stroke-width="0.5" />
<line x1="182.00" y1="165.42" x2="183.60" y2="165.42" stroke="#000" stroke-width="0.5" />
<line x1="182.00" y1="164.42" x2="183.60" y2="164.42" stroke="#000" stroke-width="0.5" />
<line x1="182.00" y1="163.55" x2="183.60" y2="163.55" stroke="#000" stroke-width="0.5" />
<line x1="182.00" y1="162.78" x2="183.60" y2="162.78" stroke="#000" stroke-width="0.5" />
<line x1="182.00" y1="162.10" x2="185.00" y2="162.10" stroke="#000" stroke-width="0.8" />
<line x1="182.00" y1="157.60" x2="183.60" y2="157.60" stroke="#000" stroke-width="0.5" />
<line x1="182.00" y1="154.97" x2="183.60" y2="154.97" stroke="#000" stroke-width="0.5" />
<line x1="182.00" y1="153.10" x2="183.60" y2="153.10" stroke="#000" stroke-width="0.5" />
<line x1="182.00" y1="151.65" x2="183.60" y2="151.65" stroke="#000" stroke-width="0.5" />
<line x1="182.00" y1="150.47" x2="183.60" y2="150.47" stroke="#000" stroke-width="0.5" />
<line x1="182.00" y1="149.47" x2="183.60" y2="149.47" stroke="#000" stroke-width="0.5" />
<line x1="182.00" y1="148.60" x2="183.60" y2="148.60" stroke="#000" stroke-width="0.5" />
<line x1="182.00" y1="147.83" x2="183.60" y2="147.83" stroke="#000" stroke-width="0.5" />
<line x1="182.00" y1="147.15" x2="185.00" y2="147.15" stroke="#000" stroke-width="0.8" />
<line x1="182.00" y1="142.65" x2="183.60" y2="142.65" stroke="#000" stroke-width="0.5" />
<line x1="182.00" y1="140.02" x2="183.60" y2="140.02" stroke="#000" stroke-width="0.5" />
<line x1="182.00" y1="138.15" x2="183.60" y2="138.15" stroke="#000" stroke-width="0.5" />
<line x1="182.00" y1="136.70" x2="183.60" y2="136.70" stroke="#000" stroke-width="0.5" />
<line x1="182.00" y1="135.52" x2="183.60" y2="135.52" stroke="#000" stroke-width="0.5" />
<line x1="182.00" y1="134.52" x2="183.60" y2="134.52" stroke="#000" stroke-width="0.5" />
<line x1="182.00" y1="133.65" x2="183.60" y2="133.65" stroke="#000" stroke-width="0.5" />
<line x1="182.00" y1="132.88" x2="183.60" y2="132.88" stroke="#000" stroke-width="0.5" />
<line x1="182.00" y1="132.20" x2="185.00" y2="132.20" stroke="#000" stroke-width="0.8" />
<line x1="182.00" y1="222.00" x2="182.00" y2="219.80" stroke="#000" stroke-width="0.6" />
<line x1="186.95" y1="222.00" x2="186.95" y2="220.70" stroke="#000" stroke-width="0.6" />
<line x1="191.90" y1="222.00" x2="191.90" y2="220.70" stroke="#000" stroke-width="0.6" />
<line x1="196.85" y1="222.00" x2="196.85" y2="220.70" stroke="#000" stroke-width="0.6" />
<line x1="201.80" y1="222.00" x2="201.80" y2="220.70" stroke="#000" stroke-width="0.6" />
<line x1="206.75" y1="222.00" x2="206.75" y2="219.80" stroke="#000" stroke-width="0.6" />
<line x1="211.70" y1="222.00" x2="211.70" y2="220.70" stroke="#000" stroke-width="0.6" />
<line x1="216.65" y1="222.00" x2="216.65" y2="220.70" stroke="#000" stroke-width="0.6" />
<line x1="221.60" y1="222.00" x2="221.60" y2="220.70" stroke="#000" stroke-width="0.6" />
<line x1="226.55" y1="222.00" x2="226.55" y2="220.70" stroke="#000" stroke-width="0.6" />
<line x1="231.50" y1="222.00" x2="231.50" y2="219.80" stroke="#000" stroke-width="0.6" />
<line x1="236.45" y1="222.00" x2="236.45" y2="220.70" stroke="#000" stroke-width="0.6" />
<line x1="241.40" y1="222.00" x2="241.40" y2="220.70" stroke="#000" stroke-width="0.6" />
<line x1="246.35" y1="222.00" x2="246.35" y2="220.70" stroke="#000" stroke-width="0.6" />
<line x1="251.30" y1="222.00" x2="251.30" y2="220.70" stroke="#000" stroke-width="0.6" />
<line x1="256.25" y1="222.00" x2="256.25" y2="219.80" stroke="#000" stroke-width="0.6" />
<line x1="261.20" y1="222.00" x2="261.20" y2="220.70" stroke="#000" stroke-width="0.6" />
<line x1="266.15" y1="222.00" x2="266.15" y2="220.70" stroke="#000" stroke-width="0.6" />
<line x1="271.10" y1="222.00" x2="271.10" y2="220.70" stroke="#000" stroke-width="0.6" />
<line x1="276.05" y1="222.00" x2="276.05" y2="220.70" stroke="#000" stroke-width="0.6" />
<line x1="281.00" y1="222.00" x2="281.00" y2="219.80" stroke="#000" stroke-width="0.6" />
<text x="172.20" y="134.60" font-size="6.6" text-anchor="end" font-weight="bold" fill="#000" >10</text>
<text x="172.40" y="131.60" font-size="4.3" text-anchor="start" font-weight="bold" fill="#000" >-2</text>
<text x="172.20" y="149.55" font-size="6.6" text-anchor="end" font-weight="bold" fill="#000" >10</text>
<text x="172.40" y="146.55" font-size="4.3" text-anchor="start" font-weight="bold" fill="#000" >-3</text>
<text x="172.20" y="164.50" font-size="6.6" text-anchor="end" font-weight="bold" fill="#000" >10</text>
<text x="172.40" y="161.50" font-size="4.3" text-anchor="start" font-weight="bold" fill="#000" >-4</text>
<text x="172.20" y="179.45" font-size="6.6" text-anchor="end" font-weight="bold" fill="#000" >10</text>
<text x="172.40" y="176.45" font-size="4.3" text-anchor="start" font-weight="bold" fill="#000" >-5</text>
<text x="172.20" y="194.40" font-size="6.6" text-anchor="end" font-weight="bold" fill="#000" >10</text>
<text x="172.40" y="191.40" font-size="4.3" text-anchor="start" font-weight="bold" fill="#000" >-6</text>
<text x="172.20" y="209.35" font-size="6.6" text-anchor="end" font-weight="bold" fill="#000" >10</text>
<text x="172.40" y="206.35" font-size="4.3" text-anchor="start" font-weight="bold" fill="#000" >-7</text>
<text x="172.20" y="224.30" font-size="6.6" text-anchor="end" font-weight="bold" fill="#000" >10</text>
<text x="172.40" y="221.30" font-size="4.3" text-anchor="start" font-weight="bold" fill="#000" >-8</text>
<text x="182.00" y="232.50" font-size="6.8" text-anchor="middle" font-weight="bold" fill="#000" >-400</text>
<text x="206.75" y="232.50" font-size="6.8" text-anchor="middle" font-weight="bold" fill="#000" >-300</text>
<text x="231.50" y="232.50" font-size="6.8" text-anchor="middle" font-weight="bold" fill="#000" >-200</text>
<text x="256.25" y="232.50" font-size="6.8" text-anchor="middle" font-weight="bold" fill="#000" >-100</text>
<text x="281.00" y="232.50" font-size="6.8" text-anchor="middle" font-weight="bold" fill="#000" >0</text>
<text x="231.70" y="242.90" font-size="7.7" text-anchor="middle" font-weight="bold" fill="#000" >Anode Voltage (V)</text>
<text x="0.00" y="0.00" font-size="7.55" text-anchor="middle" font-weight="bold" fill="#000" transform="translate(156.3,176.6) rotate(-90)">Current Density (A/cm<tspan font-size="4.8" dy="-2.7">2</tspan><tspan dy="2.7">)</tspan></text>
<text x="235.20" y="211.60" font-size="12.6" text-anchor="start" font-weight="bold" fill="#000" >Ni</text>
<rect x="187.4" y="181.3" width="34.5" height="35.6" fill="#fff" stroke="#6a6a6a" stroke-width="1"/>
<line x1="189.80" y1="187.20" x2="195.30" y2="187.20" stroke="#7030a0" stroke-width="1.4" />
<text x="197.40" y="189.50" font-size="6.3" text-anchor="start" font-weight="bold" fill="#000" >25 °C</text>
<line x1="189.80" y1="194.85" x2="195.30" y2="194.85" stroke="#0070c0" stroke-width="1.4" />
<text x="197.40" y="197.15" font-size="6.3" text-anchor="start" font-weight="bold" fill="#000" >50 °C</text>
<line x1="189.80" y1="202.50" x2="195.30" y2="202.50" stroke="#00b050" stroke-width="1.4" />
<text x="197.40" y="204.80" font-size="6.3" text-anchor="start" font-weight="bold" fill="#000" >75 °C</text>
<line x1="189.80" y1="210.15" x2="195.30" y2="210.15" stroke="#ffc000" stroke-width="1.4" />
<text x="197.40" y="212.45" font-size="6.3" text-anchor="start" font-weight="bold" fill="#000" >100 °C</text>
<defs><clipPath id="cD"><rect x="320" y="5.3" width="124.5" height="101.0"/></clipPath></defs>
<g clip-path="url(#cD)">
<path d="M324.00,75.60 C326.67,73.73 335.12,67.83 340.00,64.40 C344.88,60.97 349.97,57.60 353.30,55.00 C356.63,52.40 357.22,51.47 360.00,48.80 C362.78,46.13 366.67,42.13 370.00,39.00 C373.33,35.87 375.83,33.22 380.00,30.00 C384.17,26.78 390.18,22.82 395.00,19.70 C399.82,16.58 403.57,13.73 408.90,11.30 C414.23,8.87 423.15,6.40 427.00,5.10 C430.85,3.80 431.17,3.77 432.00,3.50" stroke="#3a8fd6" stroke-width="0.8" fill="none" stroke-dasharray="1.1,0.45"/>
<path d="M324.40,90.60 C326.33,89.58 331.73,87.10 336.00,84.50 C340.27,81.90 346.33,77.58 350.00,75.00 C353.67,72.42 355.67,71.17 358.00,69.00 C360.33,66.83 361.50,65.00 364.00,62.00 C366.50,59.00 369.70,54.65 373.00,51.00 C376.30,47.35 380.13,43.67 383.80,40.10 C387.47,36.53 390.82,32.97 395.00,29.60 C399.18,26.23 404.27,22.60 408.90,19.90 C413.53,17.20 417.20,15.40 422.80,13.40 C428.40,11.40 439.22,8.82 442.50,7.90" stroke="#444" stroke-width="0.85" fill="none" stroke-dasharray="1.1,0.45"/>
<path d="M330.90,91.60 C332.42,90.72 336.82,88.60 340.00,86.30 C343.18,84.00 346.37,81.02 350.00,77.80 C353.63,74.58 358.68,70.13 361.80,67.00 C364.92,63.87 366.00,61.92 368.70,59.00 C371.40,56.08 374.82,52.65 378.00,49.50 C381.18,46.35 384.97,42.85 387.80,40.10 C390.63,37.35 391.48,35.92 395.00,33.00 C398.52,30.08 404.27,25.40 408.90,22.60 C413.53,19.80 417.20,18.32 422.80,16.20 C428.40,14.08 439.22,10.95 442.50,9.90" stroke="#ff3030" stroke-width="0.85" fill="none" stroke-dasharray="1.1,0.45"/>
<path d="M322.60,85.00 C324.67,83.97 330.43,81.20 335.00,78.80 C339.57,76.40 345.00,73.30 350.00,70.60 C355.00,67.90 360.00,65.30 365.00,62.60 C370.00,59.90 375.83,56.85 380.00,54.40 C384.17,51.95 387.17,49.80 390.00,47.90 C392.83,46.00 395.00,44.28 397.00,43.00 C399.00,41.72 400.62,41.10 402.00,40.20 C403.38,39.30 404.75,38.03 405.30,37.60" stroke="#0070c0" stroke-width="3.4" fill="none" stroke-linecap="round"/>
<path d="M328.00,95.00 C330.83,93.87 340.17,90.32 345.00,88.20 C349.83,86.08 352.83,84.85 357.00,82.30 C361.17,79.75 364.50,76.37 370.00,72.90 C375.50,69.43 383.33,65.28 390.00,61.50 C396.67,57.72 405.78,52.53 410.00,50.20 C414.22,47.87 414.42,47.95 415.30,47.50" stroke="#000" stroke-width="5.4" fill="none" stroke-linecap="round"/>
<path d="M324.00,97.50 C325.50,96.88 330.00,95.00 333.00,93.80 C336.00,92.60 340.50,90.88 342.00,90.30" stroke="#000" stroke-width="3.5" fill="none" stroke-linecap="round"/>
<path d="M334.00,99.80 C335.83,99.05 341.17,97.10 345.00,95.30 C348.83,93.50 352.83,91.80 357.00,89.00 C361.17,86.20 366.17,81.20 370.00,78.50 C373.83,75.80 376.67,74.72 380.00,72.80 C383.33,70.88 385.00,70.02 390.00,67.00 C395.00,63.98 404.47,58.05 410.00,54.70 C415.53,51.35 421.00,48.20 423.20,46.90" stroke="#ff0000" stroke-width="5.4" fill="none" stroke-linecap="round"/>
<circle cx="338.65" cy="96.71" r="1.5" fill="none" stroke="#000" stroke-width="0.6"/>
<circle cx="339.44" cy="92.63" r="1.5" fill="none" stroke="#000" stroke-width="0.6"/>
<circle cx="334.54" cy="95.39" r="1.5" fill="none" stroke="#000" stroke-width="0.6"/>
<circle cx="335.96" cy="94.41" r="1.5" fill="none" stroke="#000" stroke-width="0.6"/>
<circle cx="339.99" cy="92.95" r="1.5" fill="none" stroke="#000" stroke-width="0.6"/>
<circle cx="333.19" cy="96.92" r="1.5" fill="none" stroke="#000" stroke-width="0.6"/>
<circle cx="338.50" cy="96.92" r="1.5" fill="none" stroke="#000" stroke-width="0.6"/>
<circle cx="335.56" cy="97.26" r="1.5" fill="none" stroke="#000" stroke-width="0.6"/>
<circle cx="338.73" cy="94.61" r="1.5" fill="none" stroke="#000" stroke-width="0.6"/>
<circle cx="335.28" cy="97.91" r="1.5" fill="none" stroke="#000" stroke-width="0.6"/>
<circle cx="338.07" cy="95.00" r="1.5" fill="none" stroke="#000" stroke-width="0.6"/>
<circle cx="336.86" cy="97.68" r="1.5" fill="none" stroke="#000" stroke-width="0.6"/>
<circle cx="333.59" cy="96.25" r="1.5" fill="none" stroke="#000" stroke-width="0.6"/>
<circle cx="330.74" cy="96.00" r="1.5" fill="none" stroke="#000" stroke-width="0.6"/>
<circle cx="334.13" cy="92.98" r="1.5" fill="none" stroke="#000" stroke-width="0.6"/>
<circle cx="334.59" cy="98.46" r="1.5" fill="none" stroke="#000" stroke-width="0.6"/>
<circle cx="338.20" cy="96.87" r="1.5" fill="none" stroke="#000" stroke-width="0.6"/>
<circle cx="330.83" cy="96.91" r="1.5" fill="none" stroke="#000" stroke-width="0.6"/>
<circle cx="335.52" cy="99.51" r="1.6" fill="none" stroke="#ff0000" stroke-width="0.75"/>
<circle cx="336.03" cy="100.01" r="1.6" fill="none" stroke="#ff0000" stroke-width="0.75"/>
<circle cx="326.76" cy="102.73" r="1.6" fill="none" stroke="#ff0000" stroke-width="0.75"/>
<circle cx="333.43" cy="101.68" r="1.6" fill="none" stroke="#ff0000" stroke-width="0.75"/>
<circle cx="344.01" cy="97.20" r="1.6" fill="none" stroke="#ff0000" stroke-width="0.75"/>
<circle cx="321.28" cy="97.76" r="1.6" fill="none" stroke="#ff0000" stroke-width="0.75"/>
<circle cx="337.95" cy="96.53" r="1.6" fill="none" stroke="#ff0000" stroke-width="0.75"/>
<circle cx="325.24" cy="105.32" r="1.6" fill="none" stroke="#ff0000" stroke-width="0.75"/>
<circle cx="337.50" cy="99.52" r="1.6" fill="none" stroke="#ff0000" stroke-width="0.75"/>
<circle cx="343.29" cy="98.09" r="1.6" fill="none" stroke="#ff0000" stroke-width="0.75"/>
<circle cx="337.65" cy="96.48" r="1.6" fill="none" stroke="#ff0000" stroke-width="0.75"/>
<circle cx="331.77" cy="104.07" r="1.6" fill="none" stroke="#ff0000" stroke-width="0.75"/>
<circle cx="343.86" cy="105.00" r="1.6" fill="none" stroke="#ff0000" stroke-width="0.75"/>
<circle cx="330.61" cy="101.29" r="1.6" fill="none" stroke="#ff0000" stroke-width="0.75"/>
<circle cx="328.91" cy="95.70" r="1.6" fill="none" stroke="#ff0000" stroke-width="0.75"/>
<circle cx="333.41" cy="104.46" r="1.6" fill="none" stroke="#ff0000" stroke-width="0.75"/>
<circle cx="342.22" cy="102.89" r="1.6" fill="none" stroke="#ff0000" stroke-width="0.75"/>
<circle cx="344.75" cy="97.46" r="1.6" fill="none" stroke="#ff0000" stroke-width="0.75"/>
<circle cx="325.23" cy="99.63" r="1.6" fill="none" stroke="#ff0000" stroke-width="0.75"/>
<circle cx="327.88" cy="96.68" r="1.6" fill="none" stroke="#ff0000" stroke-width="0.75"/>
<circle cx="331.35" cy="101.82" r="1.6" fill="none" stroke="#ff0000" stroke-width="0.75"/>
<circle cx="333.35" cy="97.94" r="1.6" fill="none" stroke="#ff0000" stroke-width="0.75"/>
<circle cx="341.98" cy="106.28" r="1.6" fill="none" stroke="#ff0000" stroke-width="0.75"/>
<circle cx="332.31" cy="94.93" r="1.6" fill="none" stroke="#ff0000" stroke-width="0.75"/>
<circle cx="321.79" cy="104.91" r="1.6" fill="none" stroke="#ff0000" stroke-width="0.75"/>
<circle cx="322.04" cy="102.86" r="1.6" fill="none" stroke="#ff0000" stroke-width="0.75"/>
<circle cx="335.26" cy="97.86" r="1.6" fill="none" stroke="#ff0000" stroke-width="0.75"/>
<circle cx="324.40" cy="99.69" r="1.6" fill="none" stroke="#ff0000" stroke-width="0.75"/>
<circle cx="321.62" cy="104.37" r="1.6" fill="none" stroke="#ff0000" stroke-width="0.75"/>
<circle cx="326.94" cy="95.76" r="1.6" fill="none" stroke="#ff0000" stroke-width="0.75"/>
<circle cx="322.17" cy="101.86" r="1.6" fill="none" stroke="#ff0000" stroke-width="0.75"/>
<circle cx="332.16" cy="101.87" r="1.6" fill="none" stroke="#ff0000" stroke-width="0.75"/>
<circle cx="337.38" cy="104.09" r="1.6" fill="none" stroke="#ff0000" stroke-width="0.75"/>
<circle cx="344.96" cy="102.56" r="1.6" fill="none" stroke="#ff0000" stroke-width="0.75"/>
<circle cx="325.98" cy="99.94" r="1.6" fill="none" stroke="#ff0000" stroke-width="0.75"/>
<circle cx="325.47" cy="94.13" r="1.6" fill="none" stroke="#ff0000" stroke-width="0.75"/>
<circle cx="332.80" cy="102.93" r="1.6" fill="none" stroke="#ff0000" stroke-width="0.75"/>
<circle cx="322.2" cy="80.4" r="1.5" fill="none" stroke="#0070c0" stroke-width="0.9"/>
</g>
<rect x="320" y="5.3" width="124.5" height="101.0" fill="none" stroke="#707070" stroke-width="1.4"/>
<line x1="320.00" y1="106.30" x2="323.00" y2="106.30" stroke="#000" stroke-width="0.7" />
<line x1="320.00" y1="97.88" x2="322.00" y2="97.88" stroke="#000" stroke-width="0.7" />
<line x1="320.00" y1="89.47" x2="323.00" y2="89.47" stroke="#000" stroke-width="0.7" />
<line x1="320.00" y1="81.05" x2="322.00" y2="81.05" stroke="#000" stroke-width="0.7" />
<line x1="320.00" y1="72.63" x2="323.00" y2="72.63" stroke="#000" stroke-width="0.7" />
<line x1="320.00" y1="64.22" x2="322.00" y2="64.22" stroke="#000" stroke-width="0.7" />
<line x1="320.00" y1="55.80" x2="323.00" y2="55.80" stroke="#000" stroke-width="0.7" />
<line x1="320.00" y1="47.38" x2="322.00" y2="47.38" stroke="#000" stroke-width="0.7" />
<line x1="320.00" y1="38.97" x2="323.00" y2="38.97" stroke="#000" stroke-width="0.7" />
<line x1="320.00" y1="30.55" x2="322.00" y2="30.55" stroke="#000" stroke-width="0.7" />
<line x1="320.00" y1="22.13" x2="323.00" y2="22.13" stroke="#000" stroke-width="0.7" />
<line x1="320.00" y1="13.72" x2="322.00" y2="13.72" stroke="#000" stroke-width="0.7" />
<line x1="320.00" y1="5.30" x2="323.00" y2="5.30" stroke="#000" stroke-width="0.7" />
<line x1="320.00" y1="106.30" x2="320.00" y2="104.10" stroke="#000" stroke-width="0.6" />
<line x1="328.30" y1="106.30" x2="328.30" y2="104.90" stroke="#000" stroke-width="0.6" />
<line x1="336.60" y1="106.30" x2="336.60" y2="104.90" stroke="#000" stroke-width="0.6" />
<line x1="344.90" y1="106.30" x2="344.90" y2="104.90" stroke="#000" stroke-width="0.6" />
<line x1="353.20" y1="106.30" x2="353.20" y2="104.90" stroke="#000" stroke-width="0.6" />
<line x1="361.50" y1="106.30" x2="361.50" y2="104.10" stroke="#000" stroke-width="0.6" />
<line x1="369.80" y1="106.30" x2="369.80" y2="104.90" stroke="#000" stroke-width="0.6" />
<line x1="378.10" y1="106.30" x2="378.10" y2="104.90" stroke="#000" stroke-width="0.6" />
<line x1="386.40" y1="106.30" x2="386.40" y2="104.90" stroke="#000" stroke-width="0.6" />
<line x1="394.70" y1="106.30" x2="394.70" y2="104.90" stroke="#000" stroke-width="0.6" />
<line x1="403.00" y1="106.30" x2="403.00" y2="104.10" stroke="#000" stroke-width="0.6" />
<line x1="411.30" y1="106.30" x2="411.30" y2="104.90" stroke="#000" stroke-width="0.6" />
<line x1="419.60" y1="106.30" x2="419.60" y2="104.90" stroke="#000" stroke-width="0.6" />
<line x1="427.90" y1="106.30" x2="427.90" y2="104.90" stroke="#000" stroke-width="0.6" />
<line x1="436.20" y1="106.30" x2="436.20" y2="104.90" stroke="#000" stroke-width="0.6" />
<line x1="444.50" y1="106.30" x2="444.50" y2="104.10" stroke="#000" stroke-width="0.6" />
<text x="311.00" y="7.90" font-size="6.8" text-anchor="end" font-weight="bold" fill="#000" >10</text>
<text x="311.20" y="4.80" font-size="4.4" text-anchor="start" font-weight="bold" fill="#000" >4</text>
<text x="311.00" y="24.96" font-size="6.8" text-anchor="end" font-weight="bold" fill="#000" >10</text>
<text x="311.20" y="21.86" font-size="4.4" text-anchor="start" font-weight="bold" fill="#000" >2</text>
<text x="311.00" y="42.02" font-size="6.8" text-anchor="end" font-weight="bold" fill="#000" >10</text>
<text x="311.20" y="38.92" font-size="4.4" text-anchor="start" font-weight="bold" fill="#000" >0</text>
<text x="311.00" y="59.08" font-size="6.8" text-anchor="end" font-weight="bold" fill="#000" >10</text>
<text x="311.20" y="55.98" font-size="4.4" text-anchor="start" font-weight="bold" fill="#000" >-2</text>
<text x="311.00" y="76.14" font-size="6.8" text-anchor="end" font-weight="bold" fill="#000" >10</text>
<text x="311.20" y="73.04" font-size="4.4" text-anchor="start" font-weight="bold" fill="#000" >-4</text>
<text x="311.00" y="93.20" font-size="6.8" text-anchor="end" font-weight="bold" fill="#000" >10</text>
<text x="311.20" y="90.10" font-size="4.4" text-anchor="start" font-weight="bold" fill="#000" >-6</text>
<text x="311.00" y="110.26" font-size="6.8" text-anchor="end" font-weight="bold" fill="#000" >10</text>
<text x="311.20" y="107.16" font-size="4.4" text-anchor="start" font-weight="bold" fill="#000" >-8</text>
<text x="319.80" y="118.20" font-size="7" text-anchor="middle" font-weight="bold" fill="#000" >0</text>
<text x="361.35" y="118.20" font-size="7" text-anchor="middle" font-weight="bold" fill="#000" >1</text>
<text x="402.90" y="118.20" font-size="7" text-anchor="middle" font-weight="bold" fill="#000" >2</text>
<text x="444.45" y="118.20" font-size="7" text-anchor="middle" font-weight="bold" fill="#000" >3</text>
<text x="382.20" y="127.80" font-size="7.8" text-anchor="middle" font-weight="bold" fill="#000" >Surface Field (MV/cm)</text>
<text x="0.00" y="0.00" font-size="7.7" text-anchor="middle" font-weight="bold" fill="#000" transform="translate(297.1,56.8) rotate(-90)">Leakage Current (A/cm<tspan font-size="4.7" dy="-2.7">2</tspan><tspan dy="2.7">)</tspan></text>
<rect x="321.7" y="7.6" width="57.6" height="28.4" fill="#fff" stroke="#505050" stroke-width="1"/>
<line x1="324.80" y1="13.60" x2="330.00" y2="13.60" stroke="#000" stroke-width="1.4" />
<text x="0.00" y="0.00" font-size="7.6" text-anchor="start" font-weight="bold" fill="#000" transform="translate(332.5,16.30) scale(0.78,1)">Φ</text>
<text x="337.60" y="17.50" font-size="4.5" text-anchor="start" font-weight="bold" fill="#000" >B,0</text>
<text x="344.60" y="16.20" font-size="7.0" text-anchor="start" font-weight="bold" fill="#000" >=0.80 eV</text>
<line x1="324.80" y1="21.50" x2="330.00" y2="21.50" stroke="#ff0000" stroke-width="1.4" />
<text x="0.00" y="0.00" font-size="7.6" text-anchor="start" font-weight="bold" fill="#000" transform="translate(332.5,24.20) scale(0.78,1)">Φ</text>
<text x="337.60" y="25.40" font-size="4.5" text-anchor="start" font-weight="bold" fill="#000" >B,0</text>
<text x="344.60" y="24.10" font-size="7.0" text-anchor="start" font-weight="bold" fill="#000" >=0.83 eV</text>
<line x1="324.80" y1="29.40" x2="330.00" y2="29.40" stroke="#0070c0" stroke-width="1.4" />
<text x="0.00" y="0.00" font-size="7.6" text-anchor="start" font-weight="bold" fill="#000" transform="translate(332.5,32.10) scale(0.78,1)">Φ</text>
<text x="337.60" y="33.30" font-size="4.5" text-anchor="start" font-weight="bold" fill="#000" >B,0</text>
<text x="344.60" y="32.00" font-size="7.0" text-anchor="start" font-weight="bold" fill="#000" >=0.68 eV</text>
<rect x="372.8" y="83.9" width="69.6" height="21" fill="#fff" stroke="#808080" stroke-width="1"/>
<circle cx="379" cy="90.9" r="1.9" fill="none" stroke="#000" stroke-width="1.15"/>
<text x="384.90" y="92.80" font-size="7" text-anchor="start" font-weight="bold" fill="#000" >Measured MDS</text>
<rect x="375.60" y="98.1" width="1.3" height="1.3" fill="#000"/>
<rect x="377.90" y="98.1" width="1.3" height="1.3" fill="#000"/>
<rect x="380.20" y="98.1" width="1.3" height="1.3" fill="#000"/>
<text x="384.90" y="101.80" font-size="7" text-anchor="start" font-weight="bold" fill="#000" >Theoretical SBD</text>
<defs><clipPath id="cE"><rect x="331.2" y="135.3" width="105.80000000000001" height="97.1"/></clipPath></defs>
<g clip-path="url(#cE)">
<line x1="331.20" y1="232.00" x2="362.00" y2="232.00" stroke="#ff0000" stroke-width="1.6" />
<path d="M360.50,232.40 L361.35,231.90 L362.08,231.40 L362.72,230.90 L363.31,230.40 L363.84,229.90 L364.34,229.40 L364.81,228.90 L365.25,228.40 L365.67,227.90 L366.08,227.40 L366.46,226.90 L366.84,226.40 L367.20,225.90 L367.56,225.40 L367.90,224.90 L368.24,224.40 L368.56,223.90 L368.89,223.40 L369.20,222.90 L369.51,222.40 L370.70,220.40 L371.83,218.40 L372.91,216.40 L373.95,214.40 L374.96,212.40 L375.95,210.40 L376.92,208.40 L377.87,206.40 L378.80,204.40 L379.72,202.40 L380.63,200.40 L381.53,198.40 L382.42,196.40 L383.30,194.40 L384.17,192.40 L385.04,190.40 L385.90,188.40 L386.75,186.40 L387.60,184.40 L388.45,182.40 L389.29,180.40 L390.12,178.40 L390.96,176.40 L391.78,174.40 L392.61,172.40 L393.43,170.40 L394.25,168.40 L395.07,166.40 L395.88,164.40 L396.69,162.40 L397.50,160.40 L398.31,158.40 L399.11,156.40 L399.92,154.40 L400.72,152.40 L401.52,150.40 L402.31,148.40 L403.11,146.40 L403.90,144.40 L404.70,142.40 L405.49,140.40 L406.28,138.40 L407.07,136.40 L407.85,134.40" stroke="#7030a0" stroke-width="0.75" fill="none" stroke-linejoin="round"/>
<path d="M360.80,232.40 L361.68,231.90 L362.45,231.40 L363.12,230.90 L363.74,230.40 L364.31,229.90 L364.84,229.40 L365.34,228.90 L365.82,228.40 L366.27,227.90 L366.71,227.40 L367.13,226.90 L367.54,226.40 L367.94,225.90 L368.32,225.40 L368.70,224.90 L369.07,224.40 L369.43,223.90 L369.79,223.40 L370.14,222.90 L370.48,222.40 L371.80,220.40 L373.06,218.40 L374.28,216.40 L375.45,214.40 L376.60,212.40 L377.72,210.40 L378.82,208.40 L379.91,206.40 L380.98,204.40 L382.03,202.40 L383.07,200.40 L384.10,198.40 L385.13,196.40 L386.14,194.40 L387.15,192.40 L388.15,190.40 L389.14,188.40 L390.13,186.40 L391.12,184.40 L392.09,182.40 L393.07,180.40 L394.04,178.40 L395.00,176.40 L395.97,174.40 L396.93,172.40 L397.88,170.40 L398.83,168.40 L399.78,166.40 L400.73,164.40 L401.68,162.40 L402.62,160.40 L403.56,158.40 L404.50,156.40 L405.44,154.40 L406.37,152.40 L407.31,150.40 L408.24,148.40 L409.17,146.40 L410.09,144.40 L411.02,142.40 L411.95,140.40 L412.87,138.40 L413.79,136.40 L414.71,134.40" stroke="#7030a0" stroke-width="0.75" fill="none" stroke-linejoin="round"/>
<path d="M364.50,232.40 L365.48,231.90 L366.34,231.40 L367.11,230.90 L367.82,230.40 L368.49,229.90 L369.11,229.40 L369.71,228.90 L370.28,228.40 L370.83,227.90 L371.36,227.40 L371.88,226.90 L372.38,226.40 L372.88,225.90 L373.36,225.40 L373.83,224.90 L374.30,224.40 L374.75,223.90 L375.20,223.40 L375.65,222.90 L376.08,222.40 L377.79,220.40 L379.43,218.40 L381.03,216.40 L382.58,214.40 L384.11,212.40 L385.61,210.40 L387.10,208.40 L388.56,206.40 L390.01,204.40 L391.45,202.40 L392.87,200.40 L394.28,198.40 L395.69,196.40 L397.08,194.40 L398.47,192.40 L399.85,190.40 L401.23,188.40 L402.60,186.40 L403.96,184.40 L405.32,182.40 L406.68,180.40 L408.03,178.40 L409.37,176.40 L410.72,174.40 L412.06,172.40 L413.39,170.40 L414.73,168.40 L416.06,166.40 L417.39,164.40 L418.71,162.40 L420.04,160.40 L421.36,158.40 L422.68,156.40 L424.00,154.40 L425.31,152.40 L426.63,150.40 L427.94,148.40 L429.25,146.40 L430.56,144.40 L431.87,142.40 L433.17,140.40 L434.48,138.40 L435.78,136.40 L437.09,134.40" stroke="#6a6ae0" stroke-width="0.7" fill="none" stroke-linejoin="round"/>
<path d="M363.50,232.40 L364.47,231.90 L365.32,231.40 L366.09,230.90 L366.79,230.40 L367.45,229.90 L368.07,229.40 L368.66,228.90 L369.23,228.40 L369.77,227.90 L370.30,227.40 L370.81,226.90 L371.30,226.40 L371.79,225.90 L372.26,225.40 L372.73,224.90 L373.19,224.40 L373.64,223.90 L374.08,223.40 L374.52,222.90 L374.95,222.40 L376.63,220.40 L378.24,218.40 L379.81,216.40 L381.34,214.40 L382.84,212.40 L384.32,210.40 L385.78,208.40 L387.21,206.40 L388.63,204.40 L390.04,202.40 L391.44,200.40 L392.83,198.40 L394.20,196.40 L395.57,194.40 L396.93,192.40 L398.29,190.40 L399.64,188.40 L400.98,186.40 L402.32,184.40 L403.65,182.40 L404.98,180.40 L406.30,178.40 L407.62,176.40 L408.94,174.40 L410.25,172.40 L411.56,170.40 L412.87,168.40 L414.18,166.40 L415.48,164.40 L416.78,162.40 L418.07,160.40 L419.37,158.40 L420.66,156.40 L421.95,154.40 L423.24,152.40 L424.53,150.40 L425.82,148.40 L427.10,146.40 L428.38,144.40 L429.66,142.40 L430.94,140.40 L432.22,138.40 L433.50,136.40 L434.77,134.40" stroke="#f6a8a0" stroke-width="2.2" fill="none" stroke-linejoin="round"/>
<path d="M362.50,232.40 L363.47,231.90 L364.31,231.40 L365.07,230.90 L365.76,230.40 L366.41,229.90 L367.03,229.40 L367.61,228.90 L368.16,228.40 L368.70,227.90 L369.22,227.40 L369.72,226.90 L370.21,226.40 L370.69,225.90 L371.16,225.40 L371.62,224.90 L372.06,224.40 L372.51,223.90 L372.94,223.40 L373.37,222.90 L373.80,222.40 L375.44,220.40 L377.03,218.40 L378.56,216.40 L380.07,214.40 L381.54,212.40 L382.98,210.40 L384.40,208.40 L385.81,206.40 L387.20,204.40 L388.58,202.40 L389.95,200.40 L391.30,198.40 L392.65,196.40 L393.99,194.40 L395.32,192.40 L396.64,190.40 L397.96,188.40 L399.27,186.40 L400.58,184.40 L401.88,182.40 L403.18,180.40 L404.47,178.40 L405.76,176.40 L407.04,174.40 L408.33,172.40 L409.61,170.40 L410.88,168.40 L412.16,166.40 L413.43,164.40 L414.70,162.40 L415.96,160.40 L417.23,158.40 L418.49,156.40 L419.75,154.40 L421.01,152.40 L422.26,150.40 L423.52,148.40 L424.77,146.40 L426.02,144.40 L427.27,142.40 L428.52,140.40 L429.77,138.40 L431.02,136.40 L432.26,134.40" stroke="#7030a0" stroke-width="0.75" fill="none" stroke-linejoin="round"/>
<path d="M362.00,232.40 L362.96,231.90 L363.79,231.40 L364.54,230.90 L365.23,230.40 L365.87,229.90 L366.48,229.40 L367.05,228.90 L367.60,228.40 L368.13,227.90 L368.64,227.40 L369.14,226.90 L369.62,226.40 L370.09,225.90 L370.55,225.40 L371.00,224.90 L371.44,224.40 L371.88,223.90 L372.30,223.40 L372.73,222.90 L373.14,222.40 L374.76,220.40 L376.31,218.40 L377.82,216.40 L379.29,214.40 L380.73,212.40 L382.14,210.40 L383.53,208.40 L384.91,206.40 L386.27,204.40 L387.62,202.40 L388.95,200.40 L390.28,198.40 L391.59,196.40 L392.90,194.40 L394.20,192.40 L395.49,190.40 L396.78,188.40 L398.06,186.40 L399.34,184.40 L400.61,182.40 L401.87,180.40 L403.13,178.40 L404.39,176.40 L405.65,174.40 L406.90,172.40 L408.15,170.40 L409.39,168.40 L410.64,166.40 L411.88,164.40 L413.11,162.40 L414.35,160.40 L415.58,158.40 L416.81,156.40 L418.04,154.40 L419.27,152.40 L420.50,150.40 L421.72,148.40 L422.94,146.40 L424.16,144.40 L425.38,142.40 L426.60,140.40 L427.82,138.40 L429.03,136.40 L430.25,134.40" stroke="#7030a0" stroke-width="0.75" fill="none" stroke-linejoin="round"/>
<path d="M361.50,232.40 L362.45,231.90 L363.28,231.40 L364.03,230.90 L364.71,230.40 L365.35,229.90 L365.94,229.40 L366.51,228.90 L367.06,228.40 L367.58,227.90 L368.08,227.40 L368.57,226.90 L369.05,226.40 L369.52,225.90 L369.97,225.40 L370.41,224.90 L370.85,224.40 L371.28,223.90 L371.70,223.40 L372.12,222.90 L372.53,222.40 L374.12,220.40 L375.65,218.40 L377.14,216.40 L378.58,214.40 L380.00,212.40 L381.39,210.40 L382.76,208.40 L384.12,206.40 L385.45,204.40 L386.78,202.40 L388.09,200.40 L389.39,198.40 L390.68,196.40 L391.97,194.40 L393.25,192.40 L394.52,190.40 L395.78,188.40 L397.04,186.40 L398.29,184.40 L399.54,182.40 L400.78,180.40 L402.02,178.40 L403.26,176.40 L404.49,174.40 L405.72,172.40 L406.95,170.40 L408.17,168.40 L409.39,166.40 L410.61,164.40 L411.82,162.40 L413.03,160.40 L414.25,158.40 L415.45,156.40 L416.66,154.40 L417.87,152.40 L419.07,150.40 L420.27,148.40 L421.47,146.40 L422.67,144.40 L423.86,142.40 L425.06,140.40 L426.25,138.40 L427.44,136.40 L428.64,134.40" stroke="#7030a0" stroke-width="0.75" fill="none" stroke-linejoin="round"/>
<path d="M360.30,232.40 L360.89,231.90 L361.43,231.40 L361.94,230.90 L362.42,230.40 L362.87,229.90 L363.31,229.40 L363.74,228.90 L364.16,228.40 L364.57,227.90 L364.97,227.40 L365.36,226.90 L365.75,226.40 L366.13,225.90 L366.51,225.40 L366.88,224.90 L367.26,224.40 L367.62,223.90 L367.99,223.40 L368.35,222.90 L368.71,222.40 L370.12,220.40 L371.51,218.40 L372.88,216.40 L374.24,214.40 L375.58,212.40 L376.90,210.40 L378.22,208.40 L379.54,206.40 L380.84,204.40 L382.14,202.40 L383.44,200.40 L384.73,198.40 L386.01,196.40 L387.29,194.40 L388.57,192.40 L389.85,190.40 L391.12,188.40 L392.39,186.40 L393.66,184.40 L394.93,182.40 L396.19,180.40 L397.46,178.40 L398.72,176.40 L399.98,174.40 L401.24,172.40 L402.49,170.40 L403.75,168.40 L405.01,166.40 L406.26,164.40 L407.51,162.40 L408.76,160.40 L410.01,158.40 L411.26,156.40 L412.51,154.40 L413.76,152.40 L415.01,150.40 L416.25,148.40 L417.50,146.40 L418.74,144.40 L419.99,142.40 L421.23,140.40 L422.47,138.40 L423.72,136.40 L424.96,134.40" stroke="#dd0000" stroke-width="1.5" fill="none" stroke-linejoin="round"/>
</g>
<line x1="331.20" y1="135.30" x2="437.00" y2="135.30" stroke="#555" stroke-width="1.2" />
<line x1="437.00" y1="135.30" x2="437.00" y2="232.40" stroke="#707070" stroke-width="1.4" />
<line x1="331.20" y1="232.40" x2="437.00" y2="232.40" stroke="#707070" stroke-width="1.2" />
<line x1="331.20" y1="135.30" x2="331.20" y2="232.40" stroke="#9a9a9a" stroke-width="1.0" />
<line x1="331.20" y1="232.40" x2="333.60" y2="232.40" stroke="#000" stroke-width="0.6" />
<line x1="331.20" y1="222.69" x2="332.70" y2="222.69" stroke="#000" stroke-width="0.6" />
<line x1="331.20" y1="212.98" x2="333.60" y2="212.98" stroke="#000" stroke-width="0.6" />
<line x1="331.20" y1="203.27" x2="332.70" y2="203.27" stroke="#000" stroke-width="0.6" />
<line x1="331.20" y1="193.56" x2="333.60" y2="193.56" stroke="#000" stroke-width="0.6" />
<line x1="331.20" y1="183.85" x2="332.70" y2="183.85" stroke="#000" stroke-width="0.6" />
<line x1="331.20" y1="174.14" x2="333.60" y2="174.14" stroke="#000" stroke-width="0.6" />
<line x1="331.20" y1="164.43" x2="332.70" y2="164.43" stroke="#000" stroke-width="0.6" />
<line x1="331.20" y1="154.72" x2="333.60" y2="154.72" stroke="#000" stroke-width="0.6" />
<line x1="331.20" y1="145.01" x2="332.70" y2="145.01" stroke="#000" stroke-width="0.6" />
<line x1="331.20" y1="135.30" x2="333.60" y2="135.30" stroke="#000" stroke-width="0.6" />
<line x1="331.20" y1="232.40" x2="331.20" y2="230.20" stroke="#000" stroke-width="0.6" />
<line x1="334.73" y1="232.40" x2="334.73" y2="231.10" stroke="#000" stroke-width="0.6" />
<line x1="338.25" y1="232.40" x2="338.25" y2="231.10" stroke="#000" stroke-width="0.6" />
<line x1="341.78" y1="232.40" x2="341.78" y2="231.10" stroke="#000" stroke-width="0.6" />
<line x1="345.31" y1="232.40" x2="345.31" y2="231.10" stroke="#000" stroke-width="0.6" />
<line x1="348.83" y1="232.40" x2="348.83" y2="230.20" stroke="#000" stroke-width="0.6" />
<line x1="352.36" y1="232.40" x2="352.36" y2="231.10" stroke="#000" stroke-width="0.6" />
<line x1="355.89" y1="232.40" x2="355.89" y2="231.10" stroke="#000" stroke-width="0.6" />
<line x1="359.42" y1="232.40" x2="359.42" y2="231.10" stroke="#000" stroke-width="0.6" />
<line x1="362.94" y1="232.40" x2="362.94" y2="231.10" stroke="#000" stroke-width="0.6" />
<line x1="366.47" y1="232.40" x2="366.47" y2="230.20" stroke="#000" stroke-width="0.6" />
<line x1="370.00" y1="232.40" x2="370.00" y2="231.10" stroke="#000" stroke-width="0.6" />
<line x1="373.52" y1="232.40" x2="373.52" y2="231.10" stroke="#000" stroke-width="0.6" />
<line x1="377.05" y1="232.40" x2="377.05" y2="231.10" stroke="#000" stroke-width="0.6" />
<line x1="380.58" y1="232.40" x2="380.58" y2="231.10" stroke="#000" stroke-width="0.6" />
<line x1="384.11" y1="232.40" x2="384.11" y2="230.20" stroke="#000" stroke-width="0.6" />
<line x1="387.63" y1="232.40" x2="387.63" y2="231.10" stroke="#000" stroke-width="0.6" />
<line x1="391.16" y1="232.40" x2="391.16" y2="231.10" stroke="#000" stroke-width="0.6" />
<line x1="394.69" y1="232.40" x2="394.69" y2="231.10" stroke="#000" stroke-width="0.6" />
<line x1="398.21" y1="232.40" x2="398.21" y2="231.10" stroke="#000" stroke-width="0.6" />
<line x1="401.74" y1="232.40" x2="401.74" y2="230.20" stroke="#000" stroke-width="0.6" />
<line x1="405.27" y1="232.40" x2="405.27" y2="231.10" stroke="#000" stroke-width="0.6" />
<line x1="408.79" y1="232.40" x2="408.79" y2="231.10" stroke="#000" stroke-width="0.6" />
<line x1="412.32" y1="232.40" x2="412.32" y2="231.10" stroke="#000" stroke-width="0.6" />
<line x1="415.85" y1="232.40" x2="415.85" y2="231.10" stroke="#000" stroke-width="0.6" />
<line x1="419.38" y1="232.40" x2="419.38" y2="230.20" stroke="#000" stroke-width="0.6" />
<line x1="422.90" y1="232.40" x2="422.90" y2="231.10" stroke="#000" stroke-width="0.6" />
<line x1="426.43" y1="232.40" x2="426.43" y2="231.10" stroke="#000" stroke-width="0.6" />
<line x1="429.96" y1="232.40" x2="429.96" y2="231.10" stroke="#000" stroke-width="0.6" />
<line x1="433.48" y1="232.40" x2="433.48" y2="231.10" stroke="#000" stroke-width="0.6" />
<text x="327.00" y="234.50" font-size="5.8" text-anchor="end" font-weight="bold" fill="#000" >0</text>
<text x="327.00" y="215.08" font-size="5.8" text-anchor="end" font-weight="bold" fill="#000" >200</text>
<text x="327.00" y="195.66" font-size="5.8" text-anchor="end" font-weight="bold" fill="#000" >400</text>
<text x="327.00" y="176.24" font-size="5.8" text-anchor="end" font-weight="bold" fill="#000" >600</text>
<text x="327.00" y="156.82" font-size="5.8" text-anchor="end" font-weight="bold" fill="#000" >800</text>
<text x="327.00" y="137.40" font-size="5.8" text-anchor="end" font-weight="bold" fill="#000" >1,000</text>
<text x="331.30" y="241.40" font-size="6.2" text-anchor="middle" font-weight="bold" fill="#000" >0.0</text>
<text x="348.94" y="241.40" font-size="6.2" text-anchor="middle" font-weight="bold" fill="#000" >0.5</text>
<text x="366.58" y="241.40" font-size="6.2" text-anchor="middle" font-weight="bold" fill="#000" >1.0</text>
<text x="384.22" y="241.40" font-size="6.2" text-anchor="middle" font-weight="bold" fill="#000" >1.5</text>
<text x="401.86" y="241.40" font-size="6.2" text-anchor="middle" font-weight="bold" fill="#000" >2.0</text>
<text x="419.50" y="241.40" font-size="6.2" text-anchor="middle" font-weight="bold" fill="#000" >2.5</text>
<text x="437.14" y="241.40" font-size="6.2" text-anchor="middle" font-weight="bold" fill="#000" >3.0</text>
<text x="383.70" y="250.30" font-size="6.4" text-anchor="middle" font-weight="bold" fill="#000" >Anode Voltage (V)</text>
<text x="0.00" y="0.00" font-size="6.3" text-anchor="middle" font-weight="bold" fill="#000" transform="translate(309.4,183.6) rotate(-90)">Current Density (A/cm<tspan font-size="4" dy="-2.3">2</tspan><tspan dy="2.3">)</tspan></text>
<line x1="399.50" y1="140.00" x2="420.00" y2="141.00" stroke="#7030a0" stroke-width="0.5" />
<line x1="385.50" y1="152.50" x2="403.00" y2="160.00" stroke="#7030a0" stroke-width="0.5" />
<line x1="380.40" y1="166.00" x2="391.50" y2="174.30" stroke="#7030a0" stroke-width="0.5" />
<line x1="381.00" y1="183.60" x2="393.00" y2="183.60" stroke="#e00000" stroke-width="0.5" />
<line x1="403.40" y1="193.80" x2="395.60" y2="184.30" stroke="#7030a0" stroke-width="0.5" />
<line x1="386.00" y1="219.60" x2="378.00" y2="208.00" stroke="#7030a0" stroke-width="0.5" />
<rect x="357.4" y="135.4" width="42.10" height="8.90" fill="#fff" stroke="#7030a0" stroke-width="0.9" rx="0.6"/>
<text x="378.45" y="141.25" font-size="3.9" text-anchor="middle" font-weight="bold" fill="#7030a0" >CPW4-1200-S008B</text>
<rect x="342.7" y="148.6" width="42.80" height="9.00" fill="#fff" stroke="#7030a0" stroke-width="0.9" rx="0.6"/>
<text x="364.10" y="154.50" font-size="3.9" text-anchor="middle" font-weight="bold" fill="#7030a0" >CPW4-1200-S005B</text>
<rect x="338.4" y="161.7" width="42.00" height="9.00" fill="#fff" stroke="#7030a0" stroke-width="0.9" rx="0.6"/>
<text x="359.40" y="167.60" font-size="3.9" text-anchor="middle" font-weight="bold" fill="#7030a0" >EPW4-1200-S010A</text>
<rect x="334.2" y="176.5" width="46.9" height="15.4" fill="#fff" stroke="#e00000" stroke-width="0.9" rx="0.6"/>
<text x="357.00" y="182.90" font-size="4.15" text-anchor="middle" font-weight="bold" fill="#e00000" font-style="italic" stroke="#e00000" stroke-width="0.22">Proposed β-Ga<tspan font-size="3" dy="0.9">2</tspan><tspan dy="-0.9">O</tspan><tspan font-size="3" dy="0.9">3</tspan></text>
<text x="357.60" y="187.60" font-size="4.3" text-anchor="middle" font-weight="bold" fill="#e00000" stroke="#e00000" stroke-width="0.22">MDS Diode</text>
<rect x="394.8" y="193.8" width="41.50" height="7.90" fill="#fff" stroke="#7030a0" stroke-width="0.9" rx="0.6"/>
<text x="415.55" y="199.15" font-size="3.9" text-anchor="middle" font-weight="bold" fill="#7030a0" >CPW4-1200-S010B</text>
<rect x="389.8" y="206.6" width="42.40" height="8.60" fill="#fff" stroke="#7030a0" stroke-width="0.9" rx="0.6"/>
<text x="411.00" y="212.30" font-size="3.9" text-anchor="middle" font-weight="bold" fill="#7030a0" >EPW4-1200-S020A</text>
<rect x="381.6" y="219.6" width="42.50" height="8.70" fill="#fff" stroke="#7030a0" stroke-width="0.9" rx="0.6"/>
<text x="402.85" y="225.35" font-size="3.9" text-anchor="middle" font-weight="bold" fill="#7030a0" >CPW4-1200-S020B</text>
</svg>
</body></html>
